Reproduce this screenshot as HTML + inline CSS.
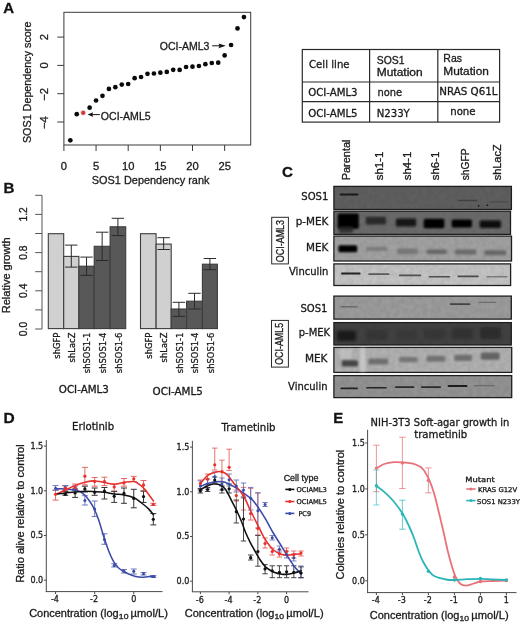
<!DOCTYPE html>
<html><head><meta charset="utf-8"><title>Figure</title>
<style>
html,body{margin:0;padding:0;background:#fff;width:520px;height:625px;overflow:hidden;}
svg{display:block;position:absolute;left:0;top:0;}
text{white-space:pre;stroke:#1a1a1a;stroke-width:0.3px;}
</style></head><body>
<svg width="520" height="625" viewBox="0 0 520 625">
<defs>
<filter id="b1" x="-30%" y="-100%" width="160%" height="300%"><feGaussianBlur stdDeviation="1.2"/></filter>
<filter id="b2" x="-30%" y="-100%" width="160%" height="300%"><feGaussianBlur stdDeviation="0.8"/></filter>
<filter id="b3" x="-30%" y="-100%" width="160%" height="300%"><feGaussianBlur stdDeviation="1.8"/></filter>
<filter id="b4" x="-10%" y="-200%" width="120%" height="500%"><feGaussianBlur stdDeviation="0.5 0.45"/></filter>
<filter id="b5" x="-20%" y="-100%" width="140%" height="300%"><feGaussianBlur stdDeviation="0.9 0.8"/></filter>
<filter id="noise" x="0" y="0" width="100%" height="100%"><feTurbulence type="fractalNoise" baseFrequency="0.22" numOctaves="3" seed="7" result="n"/><feColorMatrix type="matrix" values="0 0 0 0 0  0 0 0 0 0  0 0 0 0 0  0 0 0 0.5 0" in="n" result="m"/><feComposite in="m" in2="SourceGraphic" operator="in"/></filter>
</defs>
<rect width="520" height="625" fill="#fff"/>
<text transform="translate(3.30,12.90) scale(1.0,1)" x="0" y="0" text-anchor="start" font-family="'Liberation Sans', Arial, sans-serif" font-size="15.0" font-weight="700" fill="#111">A</text>
<rect x="63.90" y="12.30" width="186.80" height="132.70" fill="none" stroke="#3a3a3a" stroke-width="1"/>
<line x1="63.90" y1="145.00" x2="63.90" y2="151.00" stroke="#3a3a3a" stroke-width="1"/>
<line x1="96.05" y1="145.00" x2="96.05" y2="151.00" stroke="#3a3a3a" stroke-width="1"/>
<line x1="128.20" y1="145.00" x2="128.20" y2="151.00" stroke="#3a3a3a" stroke-width="1"/>
<line x1="160.35" y1="145.00" x2="160.35" y2="151.00" stroke="#3a3a3a" stroke-width="1"/>
<line x1="192.50" y1="145.00" x2="192.50" y2="151.00" stroke="#3a3a3a" stroke-width="1"/>
<line x1="224.65" y1="145.00" x2="224.65" y2="151.00" stroke="#3a3a3a" stroke-width="1"/>
<line x1="57.30" y1="122.00" x2="63.90" y2="122.00" stroke="#3a3a3a" stroke-width="1"/>
<line x1="57.30" y1="93.70" x2="63.90" y2="93.70" stroke="#3a3a3a" stroke-width="1"/>
<line x1="57.30" y1="65.40" x2="63.90" y2="65.40" stroke="#3a3a3a" stroke-width="1"/>
<line x1="57.30" y1="37.10" x2="63.90" y2="37.10" stroke="#3a3a3a" stroke-width="1"/>
<text transform="translate(63.90,169.50) scale(1.0,1)" x="0" y="0" text-anchor="middle" font-family="'Liberation Sans', Arial, sans-serif" font-size="11.2" font-weight="400" fill="#222">0</text>
<text transform="translate(96.05,169.50) scale(1.0,1)" x="0" y="0" text-anchor="middle" font-family="'Liberation Sans', Arial, sans-serif" font-size="11.2" font-weight="400" fill="#222">5</text>
<text transform="translate(128.20,169.50) scale(1.0,1)" x="0" y="0" text-anchor="middle" font-family="'Liberation Sans', Arial, sans-serif" font-size="11.2" font-weight="400" fill="#222">10</text>
<text transform="translate(160.35,169.50) scale(1.0,1)" x="0" y="0" text-anchor="middle" font-family="'Liberation Sans', Arial, sans-serif" font-size="11.2" font-weight="400" fill="#222">15</text>
<text transform="translate(192.50,169.50) scale(1.0,1)" x="0" y="0" text-anchor="middle" font-family="'Liberation Sans', Arial, sans-serif" font-size="11.2" font-weight="400" fill="#222">20</text>
<text transform="translate(224.65,169.50) scale(1.0,1)" x="0" y="0" text-anchor="middle" font-family="'Liberation Sans', Arial, sans-serif" font-size="11.2" font-weight="400" fill="#222">25</text>
<text x="91.83" y="184.20" font-family="'Liberation Sans', Arial, sans-serif" font-size="11.2" font-weight="400" fill="#222" textLength="117.64" lengthAdjust="spacingAndGlyphs">SOS1 Dependency rank</text>
<text transform="translate(48.30,37.10) rotate(-90) scale(1.0,1)" x="0" y="0" text-anchor="middle" font-family="'Liberation Sans', Arial, sans-serif" font-size="11.2" font-weight="400" fill="#222">2</text>
<text transform="translate(48.30,65.40) rotate(-90) scale(1.0,1)" x="0" y="0" text-anchor="middle" font-family="'Liberation Sans', Arial, sans-serif" font-size="11.2" font-weight="400" fill="#222">0</text>
<text transform="translate(48.30,94.30) rotate(-90) scale(1.0,1)" x="0" y="0" text-anchor="middle" font-family="'Liberation Sans', Arial, sans-serif" font-size="11.2" font-weight="400" fill="#222">−2</text>
<text transform="translate(48.30,122.60) rotate(-90) scale(1.0,1)" x="0" y="0" text-anchor="middle" font-family="'Liberation Sans', Arial, sans-serif" font-size="11.2" font-weight="400" fill="#222">−4</text>
<text transform="translate(30.90,143.10) rotate(-90)" x="0" y="0" font-family="'Liberation Sans', Arial, sans-serif" font-size="11.6" font-weight="400" fill="#222" textLength="121.49" lengthAdjust="spacingAndGlyphs">SOS1 Dependency score</text>
<circle cx="70.33" cy="140.30" r="2.35" fill="#0a0a0a"/>
<circle cx="76.76" cy="114.20" r="2.35" fill="#0a0a0a"/>
<circle cx="83.20" cy="112.80" r="2.7" fill="#f0c4c4"/>
<circle cx="83.20" cy="112.80" r="2.1" fill="#c83c3c"/>
<circle cx="89.62" cy="107.70" r="2.35" fill="#0a0a0a"/>
<circle cx="96.05" cy="100.50" r="2.35" fill="#0a0a0a"/>
<circle cx="102.48" cy="95.80" r="2.35" fill="#0a0a0a"/>
<circle cx="108.91" cy="88.90" r="2.35" fill="#0a0a0a"/>
<circle cx="115.34" cy="87.20" r="2.35" fill="#0a0a0a"/>
<circle cx="121.77" cy="84.60" r="2.35" fill="#0a0a0a"/>
<circle cx="128.20" cy="84.00" r="2.35" fill="#0a0a0a"/>
<circle cx="134.63" cy="78.20" r="2.35" fill="#0a0a0a"/>
<circle cx="141.06" cy="77.00" r="2.35" fill="#0a0a0a"/>
<circle cx="147.49" cy="73.80" r="2.35" fill="#0a0a0a"/>
<circle cx="153.92" cy="73.50" r="2.35" fill="#0a0a0a"/>
<circle cx="160.35" cy="72.70" r="2.35" fill="#0a0a0a"/>
<circle cx="166.78" cy="71.90" r="2.35" fill="#0a0a0a"/>
<circle cx="173.21" cy="69.80" r="2.35" fill="#0a0a0a"/>
<circle cx="179.64" cy="69.90" r="2.35" fill="#0a0a0a"/>
<circle cx="186.07" cy="67.00" r="2.35" fill="#0a0a0a"/>
<circle cx="192.50" cy="66.70" r="2.35" fill="#0a0a0a"/>
<circle cx="198.93" cy="66.00" r="2.35" fill="#0a0a0a"/>
<circle cx="205.36" cy="64.20" r="2.35" fill="#0a0a0a"/>
<circle cx="211.79" cy="63.00" r="2.35" fill="#0a0a0a"/>
<circle cx="218.22" cy="62.70" r="2.35" fill="#0a0a0a"/>
<circle cx="224.65" cy="55.40" r="2.35" fill="#0a0a0a"/>
<circle cx="231.08" cy="45.00" r="2.35" fill="#0a0a0a"/>
<circle cx="237.51" cy="28.40" r="2.35" fill="#0a0a0a"/>
<circle cx="243.94" cy="17.10" r="2.35" fill="#0a0a0a"/>
<line x1="212.20" y1="45.80" x2="220.50" y2="45.80" stroke="#111" stroke-width="1"/>
<polygon points="225.8,45.8 218.5,43.4 219.6,45.8 218.5,48.2" fill="#111"/>
<line x1="92.00" y1="114.60" x2="99.80" y2="114.60" stroke="#111" stroke-width="1"/>
<polygon points="87.6,114.6 93.2,112.3 92.2,114.6 93.2,116.9" fill="#111"/>
<text x="159.76" y="49.60" font-family="'Liberation Sans', Arial, sans-serif" font-size="10.6" font-weight="400" fill="#1a1a1a" textLength="49.67" lengthAdjust="spacingAndGlyphs">OCI-AML3</text>
<text x="100.89" y="120.30" font-family="'Liberation Sans', Arial, sans-serif" font-size="10.2" font-weight="400" fill="#1a1a1a" textLength="49.72" lengthAdjust="spacingAndGlyphs">OCI-AML5</text>
<rect x="302.30" y="49.50" width="197.30" height="72.60" fill="none" stroke="#2a2a2a" stroke-width="1.2"/>
<line x1="369.60" y1="49.50" x2="369.60" y2="122.10" stroke="#2a2a2a" stroke-width="1.2"/>
<line x1="437.80" y1="49.50" x2="437.80" y2="122.10" stroke="#2a2a2a" stroke-width="1.2"/>
<line x1="302.30" y1="82.00" x2="499.60" y2="82.00" stroke="#2a2a2a" stroke-width="1.2"/>
<line x1="302.30" y1="101.60" x2="499.60" y2="101.60" stroke="#2a2a2a" stroke-width="1.2"/>
<text x="308.98" y="68.20" font-family="'DejaVu Sans', Verdana, sans-serif" font-size="10.4" font-weight="400" fill="#1a1a1a" textLength="40.65" lengthAdjust="spacingAndGlyphs">Cell line</text>
<text x="376.78" y="64.10" font-family="'Liberation Sans', Arial, sans-serif" font-size="10.4" font-weight="400" fill="#1a1a1a" textLength="27.65" lengthAdjust="spacingAndGlyphs">SOS1</text>
<text x="376.78" y="76.00" font-family="'Liberation Sans', Arial, sans-serif" font-size="10.4" font-weight="400" fill="#1a1a1a" textLength="45.85" lengthAdjust="spacingAndGlyphs">Mutation</text>
<text x="443.38" y="62.30" font-family="'Liberation Sans', Arial, sans-serif" font-size="10.4" font-weight="400" fill="#1a1a1a" textLength="18.65" lengthAdjust="spacingAndGlyphs">Ras</text>
<text x="443.38" y="74.80" font-family="'Liberation Sans', Arial, sans-serif" font-size="10.4" font-weight="400" fill="#1a1a1a" textLength="45.45" lengthAdjust="spacingAndGlyphs">Mutation</text>
<text x="308.20" y="95.70" font-family="'DejaVu Sans', Verdana, sans-serif" font-size="10.0" font-weight="400" fill="#1a1a1a" textLength="49.40" lengthAdjust="spacingAndGlyphs">OCI-AML3</text>
<text x="377.40" y="95.70" font-family="'DejaVu Sans', Verdana, sans-serif" font-size="10.0" font-weight="400" fill="#1a1a1a" textLength="24.70" lengthAdjust="spacingAndGlyphs">none</text>
<text x="439.30" y="94.70" font-family="'DejaVu Sans', Verdana, sans-serif" font-size="10.0" font-weight="400" fill="#1a1a1a" textLength="58.30" lengthAdjust="spacingAndGlyphs">NRAS Q61L</text>
<text x="308.20" y="116.50" font-family="'DejaVu Sans', Verdana, sans-serif" font-size="10.0" font-weight="400" fill="#1a1a1a" textLength="49.40" lengthAdjust="spacingAndGlyphs">OCI-AML5</text>
<text x="376.70" y="116.50" font-family="'DejaVu Sans', Verdana, sans-serif" font-size="10.0" font-weight="400" fill="#1a1a1a" textLength="33.10" lengthAdjust="spacingAndGlyphs">N233Y</text>
<text x="450.20" y="115.30" font-family="'DejaVu Sans', Verdana, sans-serif" font-size="10.0" font-weight="400" fill="#1a1a1a" textLength="25.40" lengthAdjust="spacingAndGlyphs">none</text>
<text transform="translate(3.60,193.00) scale(1.0,1)" x="0" y="0" text-anchor="start" font-family="'Liberation Sans', Arial, sans-serif" font-size="15.2" font-weight="700" fill="#111">B</text>
<line x1="42.00" y1="195.30" x2="42.00" y2="329.00" stroke="#555" stroke-width="1"/>
<line x1="35.20" y1="329.00" x2="42.00" y2="329.00" stroke="#555" stroke-width="1"/>
<line x1="35.20" y1="309.90" x2="42.00" y2="309.90" stroke="#555" stroke-width="1"/>
<line x1="35.20" y1="290.80" x2="42.00" y2="290.80" stroke="#555" stroke-width="1"/>
<line x1="35.20" y1="271.70" x2="42.00" y2="271.70" stroke="#555" stroke-width="1"/>
<line x1="35.20" y1="252.60" x2="42.00" y2="252.60" stroke="#555" stroke-width="1"/>
<line x1="35.20" y1="233.50" x2="42.00" y2="233.50" stroke="#555" stroke-width="1"/>
<line x1="35.20" y1="214.40" x2="42.00" y2="214.40" stroke="#555" stroke-width="1"/>
<line x1="35.20" y1="195.30" x2="42.00" y2="195.30" stroke="#555" stroke-width="1"/>
<text transform="translate(27.30,329.00) rotate(-90) scale(1.0,1)" x="0" y="0" text-anchor="middle" font-family="'Liberation Sans', Arial, sans-serif" font-size="10.3" font-weight="400" fill="#222">0.0</text>
<text transform="translate(27.30,290.80) rotate(-90) scale(1.0,1)" x="0" y="0" text-anchor="middle" font-family="'Liberation Sans', Arial, sans-serif" font-size="10.3" font-weight="400" fill="#222">0.4</text>
<text transform="translate(27.30,252.60) rotate(-90) scale(1.0,1)" x="0" y="0" text-anchor="middle" font-family="'Liberation Sans', Arial, sans-serif" font-size="10.3" font-weight="400" fill="#222">0.8</text>
<text transform="translate(27.30,214.40) rotate(-90) scale(1.0,1)" x="0" y="0" text-anchor="middle" font-family="'Liberation Sans', Arial, sans-serif" font-size="10.3" font-weight="400" fill="#222">1.2</text>
<text transform="translate(9.70,313.21) rotate(-90)" x="0" y="0" font-family="'Liberation Sans', Arial, sans-serif" font-size="10.1" font-weight="400" fill="#222" textLength="75.81" lengthAdjust="spacingAndGlyphs">Relative growth</text>
<rect x="48.30" y="233.70" width="15.40" height="94.90" fill="#d0d0d0" stroke="#3c3c3c" stroke-width="1.1"/>
<rect x="63.70" y="256.40" width="15.20" height="72.20" fill="#d0d0d0" stroke="#3c3c3c" stroke-width="1.1"/>
<rect x="78.90" y="266.20" width="15.30" height="62.40" fill="#585858" stroke="#3c3c3c" stroke-width="1.1"/>
<rect x="94.20" y="246.30" width="15.90" height="82.30" fill="#585858" stroke="#3c3c3c" stroke-width="1.1"/>
<rect x="110.10" y="226.80" width="15.60" height="101.80" fill="#585858" stroke="#3c3c3c" stroke-width="1.1"/>
<line x1="71.30" y1="245.10" x2="71.30" y2="267.10" stroke="#2a2a2a" stroke-width="1"/>
<line x1="65.10" y1="245.10" x2="77.50" y2="245.10" stroke="#2a2a2a" stroke-width="1"/>
<line x1="65.10" y1="267.10" x2="77.50" y2="267.10" stroke="#2a2a2a" stroke-width="1"/>
<line x1="86.55" y1="257.10" x2="86.55" y2="275.40" stroke="#2a2a2a" stroke-width="1"/>
<line x1="80.35" y1="257.10" x2="92.75" y2="257.10" stroke="#2a2a2a" stroke-width="1"/>
<line x1="80.35" y1="275.40" x2="92.75" y2="275.40" stroke="#2a2a2a" stroke-width="1"/>
<line x1="102.15" y1="232.20" x2="102.15" y2="260.50" stroke="#2a2a2a" stroke-width="1"/>
<line x1="95.95" y1="232.20" x2="108.35" y2="232.20" stroke="#2a2a2a" stroke-width="1"/>
<line x1="95.95" y1="260.50" x2="108.35" y2="260.50" stroke="#2a2a2a" stroke-width="1"/>
<line x1="117.90" y1="218.30" x2="117.90" y2="235.60" stroke="#2a2a2a" stroke-width="1"/>
<line x1="111.70" y1="218.30" x2="124.10" y2="218.30" stroke="#2a2a2a" stroke-width="1"/>
<line x1="111.70" y1="235.60" x2="124.10" y2="235.60" stroke="#2a2a2a" stroke-width="1"/>
<rect x="140.50" y="233.70" width="15.60" height="94.90" fill="#d0d0d0" stroke="#3c3c3c" stroke-width="1.1"/>
<rect x="156.10" y="244.10" width="15.10" height="84.50" fill="#d0d0d0" stroke="#3c3c3c" stroke-width="1.1"/>
<rect x="171.20" y="309.00" width="15.40" height="19.60" fill="#585858" stroke="#3c3c3c" stroke-width="1.1"/>
<rect x="186.60" y="301.20" width="15.80" height="27.40" fill="#585858" stroke="#3c3c3c" stroke-width="1.1"/>
<rect x="202.40" y="264.20" width="15.00" height="64.40" fill="#585858" stroke="#3c3c3c" stroke-width="1.1"/>
<line x1="163.65" y1="237.70" x2="163.65" y2="249.50" stroke="#2a2a2a" stroke-width="1"/>
<line x1="157.45" y1="237.70" x2="169.85" y2="237.70" stroke="#2a2a2a" stroke-width="1"/>
<line x1="157.45" y1="249.50" x2="169.85" y2="249.50" stroke="#2a2a2a" stroke-width="1"/>
<line x1="178.90" y1="302.30" x2="178.90" y2="316.40" stroke="#2a2a2a" stroke-width="1"/>
<line x1="172.70" y1="302.30" x2="185.10" y2="302.30" stroke="#2a2a2a" stroke-width="1"/>
<line x1="172.70" y1="316.40" x2="185.10" y2="316.40" stroke="#2a2a2a" stroke-width="1"/>
<line x1="194.50" y1="293.30" x2="194.50" y2="309.00" stroke="#2a2a2a" stroke-width="1"/>
<line x1="188.30" y1="293.30" x2="200.70" y2="293.30" stroke="#2a2a2a" stroke-width="1"/>
<line x1="188.30" y1="309.00" x2="200.70" y2="309.00" stroke="#2a2a2a" stroke-width="1"/>
<line x1="209.90" y1="258.50" x2="209.90" y2="269.70" stroke="#2a2a2a" stroke-width="1"/>
<line x1="203.70" y1="258.50" x2="216.10" y2="258.50" stroke="#2a2a2a" stroke-width="1"/>
<line x1="203.70" y1="269.70" x2="216.10" y2="269.70" stroke="#2a2a2a" stroke-width="1"/>
<text transform="translate(59.80,332.6) rotate(-90)" x="0" y="0" text-anchor="end" font-family="'DejaVu Sans', Verdana, sans-serif" font-size="8.4" fill="#222">shGFP</text>
<text transform="translate(75.10,332.6) rotate(-90)" x="0" y="0" text-anchor="end" font-family="'DejaVu Sans', Verdana, sans-serif" font-size="8.4" fill="#222">shLacZ</text>
<text transform="translate(90.35,332.6) rotate(-90)" x="0" y="0" text-anchor="end" font-family="'DejaVu Sans', Verdana, sans-serif" font-size="8.4" fill="#222">shSOS1-1</text>
<text transform="translate(105.95,332.6) rotate(-90)" x="0" y="0" text-anchor="end" font-family="'DejaVu Sans', Verdana, sans-serif" font-size="8.4" fill="#222">shSOS1-4</text>
<text transform="translate(121.70,332.6) rotate(-90)" x="0" y="0" text-anchor="end" font-family="'DejaVu Sans', Verdana, sans-serif" font-size="8.4" fill="#222">shSOS1-6</text>
<text transform="translate(152.10,332.6) rotate(-90)" x="0" y="0" text-anchor="end" font-family="'DejaVu Sans', Verdana, sans-serif" font-size="8.4" fill="#222">shGFP</text>
<text transform="translate(167.45,332.6) rotate(-90)" x="0" y="0" text-anchor="end" font-family="'DejaVu Sans', Verdana, sans-serif" font-size="8.4" fill="#222">shLacZ</text>
<text transform="translate(182.70,332.6) rotate(-90)" x="0" y="0" text-anchor="end" font-family="'DejaVu Sans', Verdana, sans-serif" font-size="8.4" fill="#222">shSOS1-1</text>
<text transform="translate(198.30,332.6) rotate(-90)" x="0" y="0" text-anchor="end" font-family="'DejaVu Sans', Verdana, sans-serif" font-size="8.4" fill="#222">shSOS1-4</text>
<text transform="translate(213.70,332.6) rotate(-90)" x="0" y="0" text-anchor="end" font-family="'DejaVu Sans', Verdana, sans-serif" font-size="8.4" fill="#222">shSOS1-6</text>
<text x="58.82" y="392.70" font-family="'DejaVu Sans', Verdana, sans-serif" font-size="9.6" font-weight="400" fill="#1a1a1a" textLength="50.05" lengthAdjust="spacingAndGlyphs">OCI-AML3</text>
<text x="152.62" y="394.60" font-family="'DejaVu Sans', Verdana, sans-serif" font-size="9.6" font-weight="400" fill="#1a1a1a" textLength="50.25" lengthAdjust="spacingAndGlyphs">OCI-AML5</text>
<text transform="translate(281.90,176.90) scale(1.0,1)" x="0" y="0" text-anchor="start" font-family="'Liberation Sans', Arial, sans-serif" font-size="15.2" font-weight="700" fill="#111">C</text>
<text transform="translate(349.70,180.35) rotate(-90)" x="0" y="0" font-family="'Liberation Sans', Arial, sans-serif" font-size="10.8" font-weight="400" fill="#1a1a1a" textLength="40.80" lengthAdjust="spacingAndGlyphs">Parental</text>
<text transform="translate(382.60,180.35) rotate(-90)" x="0" y="0" font-family="'Liberation Sans', Arial, sans-serif" font-size="10.8" font-weight="400" fill="#1a1a1a" textLength="28.70" lengthAdjust="spacingAndGlyphs">sh1-1</text>
<text transform="translate(411.20,180.35) rotate(-90)" x="0" y="0" font-family="'Liberation Sans', Arial, sans-serif" font-size="10.8" font-weight="400" fill="#1a1a1a" textLength="28.70" lengthAdjust="spacingAndGlyphs">sh4-1</text>
<text transform="translate(439.40,180.35) rotate(-90)" x="0" y="0" font-family="'Liberation Sans', Arial, sans-serif" font-size="10.8" font-weight="400" fill="#1a1a1a" textLength="28.70" lengthAdjust="spacingAndGlyphs">sh6-1</text>
<text transform="translate(469.30,180.35) rotate(-90)" x="0" y="0" font-family="'Liberation Sans', Arial, sans-serif" font-size="10.8" font-weight="400" fill="#1a1a1a" textLength="31.80" lengthAdjust="spacingAndGlyphs">shGFP</text>
<text transform="translate(500.50,180.35) rotate(-90)" x="0" y="0" font-family="'Liberation Sans', Arial, sans-serif" font-size="10.8" font-weight="400" fill="#1a1a1a" textLength="36.00" lengthAdjust="spacingAndGlyphs">shLacZ</text>
<rect x="333.90" y="186.40" width="177.50" height="23.10" fill="#626262" stroke="#1e1e1e" stroke-width="1.3"/>
<rect x="334.6" y="187.10" width="176.10" height="21.70" fill="#000" opacity="0.22" filter="url(#noise)"/>
<rect x="339.70" y="193.60" width="18.80" height="2.00" rx="1.00" fill="#1a1a1a" opacity="1" filter="url(#b4)"/>
<rect x="457.80" y="199.80" width="19.50" height="1.50" rx="0.75" fill="#3a3a3a" opacity="0.8" filter="url(#b4)"/>
<rect x="489.40" y="201.10" width="18.90" height="1.40" rx="0.70" fill="#454545" opacity="0.6" filter="url(#b4)"/>
<rect x="477.80" y="205.10" width="1.60" height="1.60" rx="0.80" fill="#111" opacity="1" filter="url(#b4)"/>
<rect x="486.60" y="204.40" width="1.60" height="1.60" rx="0.80" fill="#111" opacity="1" filter="url(#b4)"/>
<rect x="333.90" y="211.20" width="176.60" height="23.20" fill="#6e6e6e" stroke="#1e1e1e" stroke-width="1.3"/>
<rect x="334.6" y="211.90" width="175.20" height="21.80" fill="#000" opacity="0.22" filter="url(#noise)"/>
<rect x="337.60" y="213.60" width="21.20" height="15.20" rx="1.50" fill="#000" opacity="1" filter="url(#b5)"/>
<rect x="339.00" y="226.00" width="14.00" height="7.00" rx="1.50" fill="#222" opacity="0.75" filter="url(#b1)"/>
<rect x="365.70" y="216.80" width="20.30" height="7.80" rx="1.50" fill="#262626" opacity="0.95" filter="url(#b5)"/>
<rect x="395.90" y="218.40" width="20.20" height="8.00" rx="1.50" fill="#141414" opacity="1" filter="url(#b5)"/>
<rect x="423.70" y="218.80" width="20.60" height="9.40" rx="1.50" fill="#000" opacity="1" filter="url(#b5)"/>
<rect x="451.70" y="219.60" width="20.20" height="8.00" rx="1.50" fill="#050505" opacity="1" filter="url(#b5)"/>
<rect x="479.70" y="220.40" width="21.20" height="7.60" rx="1.50" fill="#0a0a0a" opacity="1" filter="url(#b5)"/>
<rect x="333.90" y="236.10" width="177.60" height="24.90" fill="#a6a6a6" stroke="#1e1e1e" stroke-width="1.3"/>
<rect x="334.6" y="236.80" width="176.20" height="23.50" fill="#000" opacity="0.22" filter="url(#noise)"/>
<rect x="338.40" y="245.30" width="18.80" height="6.90" rx="1.50" fill="#000" opacity="1" filter="url(#b5)"/>
<rect x="366.00" y="246.70" width="21.50" height="4.20" rx="1.50" fill="#7c7c7c" opacity="1" filter="url(#b5)"/>
<rect x="397.00" y="248.60" width="20.90" height="5.60" rx="1.50" fill="#777" opacity="1" filter="url(#b5)"/>
<rect x="426.60" y="249.40" width="20.20" height="4.50" rx="1.50" fill="#666" opacity="1" filter="url(#b5)"/>
<rect x="455.00" y="249.60" width="21.30" height="4.80" rx="1.50" fill="#6a6a6a" opacity="1" filter="url(#b5)"/>
<rect x="484.40" y="250.30" width="21.90" height="4.90" rx="1.50" fill="#666" opacity="1" filter="url(#b5)"/>
<rect x="333.90" y="263.90" width="176.70" height="21.60" fill="#c9c9c9" stroke="#1e1e1e" stroke-width="1.3"/>
<rect x="334.6" y="264.60" width="175.30" height="20.20" fill="#000" opacity="0.22" filter="url(#noise)"/>
<rect x="341.00" y="272.40" width="19.60" height="2.00" rx="1.00" fill="#222" opacity="1" filter="url(#b4)"/>
<rect x="368.30" y="273.30" width="21.20" height="1.70" rx="0.85" fill="#5a5a5a" opacity="1" filter="url(#b4)"/>
<rect x="399.00" y="274.60" width="22.20" height="1.70" rx="0.85" fill="#505050" opacity="1" filter="url(#b4)"/>
<rect x="428.60" y="275.90" width="21.60" height="1.70" rx="0.85" fill="#505050" opacity="1" filter="url(#b4)"/>
<rect x="457.50" y="275.60" width="21.30" height="1.70" rx="0.85" fill="#4a4a4a" opacity="1" filter="url(#b4)"/>
<rect x="486.30" y="276.10" width="21.20" height="1.40" rx="0.70" fill="#7a7a7a" opacity="1" filter="url(#b4)"/>
<rect x="333.90" y="296.10" width="177.40" height="23.00" fill="#a0a0a0" stroke="#1e1e1e" stroke-width="1.3"/>
<rect x="334.6" y="296.80" width="176.00" height="21.60" fill="#000" opacity="0.22" filter="url(#noise)"/>
<rect x="340.40" y="306.00" width="17.50" height="1.60" rx="0.80" fill="#6a6a6a" opacity="1" filter="url(#b4)"/>
<rect x="449.80" y="303.20" width="20.60" height="1.70" rx="0.85" fill="#3a3a3a" opacity="0.9" filter="url(#b4)"/>
<rect x="478.50" y="301.80" width="17.70" height="1.30" rx="0.65" fill="#6a6a6a" opacity="0.9" filter="url(#b4)"/>
<rect x="333.90" y="322.60" width="177.40" height="22.40" fill="#444444" stroke="#1e1e1e" stroke-width="1.3"/>
<rect x="334.6" y="323.30" width="176.00" height="21.00" fill="#000" opacity="0.22" filter="url(#noise)"/>
<rect x="337.00" y="330.50" width="19.00" height="10.50" rx="1.50" fill="#181818" opacity="0.9" filter="url(#b3)"/>
<rect x="366.00" y="330.00" width="21.00" height="10.00" rx="1.50" fill="#2e2e2e" opacity="0.6" filter="url(#b3)"/>
<rect x="396.00" y="330.00" width="21.00" height="10.00" rx="1.50" fill="#303030" opacity="0.5" filter="url(#b3)"/>
<rect x="424.00" y="329.00" width="21.00" height="10.00" rx="1.50" fill="#2e2e2e" opacity="0.55" filter="url(#b3)"/>
<rect x="452.00" y="328.00" width="21.00" height="11.00" rx="1.50" fill="#2a2a2a" opacity="0.65" filter="url(#b3)"/>
<rect x="480.00" y="327.00" width="21.00" height="12.00" rx="1.50" fill="#262626" opacity="0.75" filter="url(#b3)"/>
<rect x="333.90" y="347.40" width="177.80" height="25.00" fill="#b6b6b6" stroke="#1e1e1e" stroke-width="1.3"/>
<rect x="334.6" y="348.10" width="176.40" height="23.60" fill="#000" opacity="0.22" filter="url(#noise)"/>
<rect x="360" y="348.2" width="5.5" height="23.5" fill="#d0d0d0" opacity="0.7" filter="url(#b1)"/>
<rect x="340" y="349" width="12" height="10" fill="#c8c8c8" opacity="0.6" filter="url(#b1)"/>
<rect x="341.70" y="360.20" width="16.20" height="6.40" rx="1.50" fill="#444" opacity="1" filter="url(#b5)"/>
<rect x="368.30" y="358.60" width="19.90" height="5.80" rx="1.50" fill="#6e6e6e" opacity="1" filter="url(#b5)"/>
<rect x="399.00" y="357.00" width="18.70" height="5.30" rx="1.50" fill="#747474" opacity="1" filter="url(#b5)"/>
<rect x="426.50" y="355.80" width="18.90" height="6.00" rx="1.50" fill="#727272" opacity="1" filter="url(#b5)"/>
<rect x="454.20" y="354.80" width="17.70" height="6.20" rx="1.50" fill="#6e6e6e" opacity="1" filter="url(#b5)"/>
<rect x="480.80" y="352.60" width="18.80" height="7.20" rx="1.50" fill="#646464" opacity="1" filter="url(#b5)"/>
<rect x="333.90" y="375.60" width="177.80" height="22.00" fill="#979797" stroke="#1e1e1e" stroke-width="1.3"/>
<rect x="334.6" y="376.30" width="176.40" height="20.60" fill="#000" opacity="0.22" filter="url(#noise)"/>
<rect x="340.40" y="387.60" width="17.50" height="1.70" rx="0.85" fill="#222" opacity="1" filter="url(#b4)"/>
<rect x="366.00" y="386.90" width="20.80" height="1.70" rx="0.85" fill="#262626" opacity="1" filter="url(#b4)"/>
<rect x="395.00" y="386.30" width="19.40" height="1.70" rx="0.85" fill="#2a2a2a" opacity="1" filter="url(#b4)"/>
<rect x="421.00" y="386.30" width="20.00" height="1.70" rx="0.85" fill="#2c2c2c" opacity="1" filter="url(#b4)"/>
<rect x="447.60" y="385.10" width="19.90" height="1.80" rx="0.90" fill="#1c1c1c" opacity="1" filter="url(#b4)"/>
<rect x="474.00" y="384.90" width="21.00" height="1.40" rx="0.70" fill="#6a6a6a" opacity="1" filter="url(#b4)"/>
<text x="301.31" y="199.90" font-family="'DejaVu Sans', Verdana, sans-serif" font-size="9.9" font-weight="400" fill="#1a1a1a" textLength="27.09" lengthAdjust="spacingAndGlyphs">SOS1</text>
<text x="295.71" y="225.40" font-family="'DejaVu Sans', Verdana, sans-serif" font-size="9.9" font-weight="400" fill="#1a1a1a" textLength="32.69" lengthAdjust="spacingAndGlyphs">p-MEK</text>
<text x="306.11" y="251.20" font-family="'DejaVu Sans', Verdana, sans-serif" font-size="9.9" font-weight="400" fill="#1a1a1a" textLength="22.29" lengthAdjust="spacingAndGlyphs">MEK</text>
<text x="289.01" y="275.00" font-family="'DejaVu Sans', Verdana, sans-serif" font-size="9.9" font-weight="400" fill="#1a1a1a" textLength="39.39" lengthAdjust="spacingAndGlyphs">Vinculin</text>
<text x="300.41" y="311.50" font-family="'DejaVu Sans', Verdana, sans-serif" font-size="9.9" font-weight="400" fill="#1a1a1a" textLength="27.09" lengthAdjust="spacingAndGlyphs">SOS1</text>
<text x="298.71" y="335.70" font-family="'DejaVu Sans', Verdana, sans-serif" font-size="9.9" font-weight="400" fill="#1a1a1a" textLength="31.39" lengthAdjust="spacingAndGlyphs">p-MEK</text>
<text x="304.91" y="361.80" font-family="'DejaVu Sans', Verdana, sans-serif" font-size="9.9" font-weight="400" fill="#1a1a1a" textLength="22.59" lengthAdjust="spacingAndGlyphs">MEK</text>
<text x="288.11" y="389.90" font-family="'DejaVu Sans', Verdana, sans-serif" font-size="9.9" font-weight="400" fill="#1a1a1a" textLength="39.39" lengthAdjust="spacingAndGlyphs">Vinculin</text>
<rect x="271.70" y="217.30" width="16.70" height="46.60" fill="none" stroke="#2a2a2a" stroke-width="1"/>
<text transform="translate(283.50,262.31) rotate(-90)" x="0" y="0" font-family="'Liberation Sans', Arial, sans-serif" font-size="10.2" font-weight="400" fill="#1a1a1a" textLength="42.42" lengthAdjust="spacingAndGlyphs">OCI-AML3</text>
<rect x="271.50" y="320.40" width="16.90" height="46.70" fill="none" stroke="#2a2a2a" stroke-width="1"/>
<text transform="translate(283.30,364.81) rotate(-90)" x="0" y="0" font-family="'Liberation Sans', Arial, sans-serif" font-size="10.2" font-weight="400" fill="#1a1a1a" textLength="41.92" lengthAdjust="spacingAndGlyphs">OCI-AML5</text>
<text transform="translate(3.50,422.70) scale(1.0,1)" x="0" y="0" text-anchor="start" font-family="'Liberation Sans', Arial, sans-serif" font-size="15.5" font-weight="700" fill="#111">D</text>
<line x1="46.30" y1="440.00" x2="46.30" y2="592.00" stroke="#4a4a4a" stroke-width="1.0"/>
<line x1="45.80" y1="591.60" x2="162.50" y2="591.60" stroke="#4a4a4a" stroke-width="1.0"/>
<line x1="43.90" y1="446.10" x2="46.30" y2="446.10" stroke="#4a4a4a" stroke-width="1"/>
<text transform="translate(43.20,449.00) scale(1.0,1)" x="0" y="0" text-anchor="end" font-family="'DejaVu Sans', Verdana, sans-serif" font-size="8.0" font-weight="400" fill="#2a2a2a">1.5</text>
<line x1="43.90" y1="490.80" x2="46.30" y2="490.80" stroke="#4a4a4a" stroke-width="1"/>
<text transform="translate(43.20,493.70) scale(1.0,1)" x="0" y="0" text-anchor="end" font-family="'DejaVu Sans', Verdana, sans-serif" font-size="8.0" font-weight="400" fill="#2a2a2a">1.0</text>
<line x1="43.90" y1="535.50" x2="46.30" y2="535.50" stroke="#4a4a4a" stroke-width="1"/>
<text transform="translate(43.20,538.40) scale(1.0,1)" x="0" y="0" text-anchor="end" font-family="'DejaVu Sans', Verdana, sans-serif" font-size="8.0" font-weight="400" fill="#2a2a2a">0.5</text>
<line x1="43.90" y1="580.20" x2="46.30" y2="580.20" stroke="#4a4a4a" stroke-width="1"/>
<text transform="translate(43.20,583.10) scale(1.0,1)" x="0" y="0" text-anchor="end" font-family="'DejaVu Sans', Verdana, sans-serif" font-size="8.0" font-weight="400" fill="#2a2a2a">0.0</text>
<line x1="55.55" y1="591.60" x2="55.55" y2="594.00" stroke="#4a4a4a" stroke-width="1"/>
<text transform="translate(54.95,601.80) scale(1.0,1)" x="0" y="0" text-anchor="middle" font-family="'DejaVu Sans', Verdana, sans-serif" font-size="8.0" font-weight="400" fill="#2a2a2a">-4</text>
<line x1="94.65" y1="591.60" x2="94.65" y2="594.00" stroke="#4a4a4a" stroke-width="1"/>
<text transform="translate(94.05,601.80) scale(1.0,1)" x="0" y="0" text-anchor="middle" font-family="'DejaVu Sans', Verdana, sans-serif" font-size="8.0" font-weight="400" fill="#2a2a2a">-2</text>
<line x1="133.75" y1="591.60" x2="133.75" y2="594.00" stroke="#4a4a4a" stroke-width="1"/>
<text transform="translate(133.75,601.80) scale(1.0,1)" x="0" y="0" text-anchor="middle" font-family="'DejaVu Sans', Verdana, sans-serif" font-size="8.0" font-weight="400" fill="#2a2a2a">0</text>
<text x="72.10" y="430.40" font-family="'DejaVu Sans', Verdana, sans-serif" font-size="10.0" font-weight="400" fill="#1a1a1a" textLength="42.00" lengthAdjust="spacingAndGlyphs">Erlotinib</text>
<line x1="192.40" y1="440.80" x2="192.40" y2="592.00" stroke="#4a4a4a" stroke-width="1.0"/>
<line x1="191.90" y1="591.80" x2="308.50" y2="591.80" stroke="#4a4a4a" stroke-width="1.0"/>
<line x1="190.00" y1="447.10" x2="192.40" y2="447.10" stroke="#4a4a4a" stroke-width="1"/>
<text transform="translate(189.30,450.00) scale(1.0,1)" x="0" y="0" text-anchor="end" font-family="'DejaVu Sans', Verdana, sans-serif" font-size="8.0" font-weight="400" fill="#2a2a2a">1.5</text>
<line x1="190.00" y1="491.80" x2="192.40" y2="491.80" stroke="#4a4a4a" stroke-width="1"/>
<text transform="translate(189.30,494.70) scale(1.0,1)" x="0" y="0" text-anchor="end" font-family="'DejaVu Sans', Verdana, sans-serif" font-size="8.0" font-weight="400" fill="#2a2a2a">1.0</text>
<line x1="190.00" y1="536.50" x2="192.40" y2="536.50" stroke="#4a4a4a" stroke-width="1"/>
<text transform="translate(189.30,539.40) scale(1.0,1)" x="0" y="0" text-anchor="end" font-family="'DejaVu Sans', Verdana, sans-serif" font-size="8.0" font-weight="400" fill="#2a2a2a">0.5</text>
<line x1="190.00" y1="581.20" x2="192.40" y2="581.20" stroke="#4a4a4a" stroke-width="1"/>
<text transform="translate(189.30,584.10) scale(1.0,1)" x="0" y="0" text-anchor="end" font-family="'DejaVu Sans', Verdana, sans-serif" font-size="8.0" font-weight="400" fill="#2a2a2a">0.0</text>
<line x1="200.38" y1="591.80" x2="200.38" y2="594.20" stroke="#4a4a4a" stroke-width="1"/>
<text transform="translate(199.78,602.60) scale(1.0,1)" x="0" y="0" text-anchor="middle" font-family="'DejaVu Sans', Verdana, sans-serif" font-size="8.0" font-weight="400" fill="#2a2a2a">-6</text>
<line x1="229.12" y1="591.80" x2="229.12" y2="594.20" stroke="#4a4a4a" stroke-width="1"/>
<text transform="translate(228.52,602.60) scale(1.0,1)" x="0" y="0" text-anchor="middle" font-family="'DejaVu Sans', Verdana, sans-serif" font-size="8.0" font-weight="400" fill="#2a2a2a">-4</text>
<line x1="257.86" y1="591.80" x2="257.86" y2="594.20" stroke="#4a4a4a" stroke-width="1"/>
<text transform="translate(257.26,602.60) scale(1.0,1)" x="0" y="0" text-anchor="middle" font-family="'DejaVu Sans', Verdana, sans-serif" font-size="8.0" font-weight="400" fill="#2a2a2a">-2</text>
<line x1="286.60" y1="591.80" x2="286.60" y2="594.20" stroke="#4a4a4a" stroke-width="1"/>
<text transform="translate(286.60,602.60) scale(1.0,1)" x="0" y="0" text-anchor="middle" font-family="'DejaVu Sans', Verdana, sans-serif" font-size="8.0" font-weight="400" fill="#2a2a2a">0</text>
<text x="221.59" y="430.50" font-family="'DejaVu Sans', Verdana, sans-serif" font-size="10.1" font-weight="400" fill="#1a1a1a" textLength="54.01" lengthAdjust="spacingAndGlyphs">Trametinib</text>
<text x="29.16" y="616.60" font-family="'Liberation Sans', Arial, sans-serif" font-size="10.7" font-weight="400" fill="#1a1a1a" textLength="89.48" lengthAdjust="spacingAndGlyphs">Concentration (log</text>
<text x="118.87" y="618.60" font-family="'Liberation Sans', Arial, sans-serif" font-size="7.2" font-weight="400" fill="#1a1a1a" textLength="9.56" lengthAdjust="spacingAndGlyphs">10</text>
<text x="130.56" y="616.60" font-family="'Liberation Sans', Arial, sans-serif" font-size="10.7" font-weight="400" fill="#1a1a1a" textLength="37.38" lengthAdjust="spacingAndGlyphs">µmol/L)</text>
<text x="184.86" y="616.60" font-family="'Liberation Sans', Arial, sans-serif" font-size="10.7" font-weight="400" fill="#1a1a1a" textLength="89.48" lengthAdjust="spacingAndGlyphs">Concentration (log</text>
<text x="274.57" y="618.60" font-family="'Liberation Sans', Arial, sans-serif" font-size="7.2" font-weight="400" fill="#1a1a1a" textLength="9.56" lengthAdjust="spacingAndGlyphs">10</text>
<text x="286.26" y="616.60" font-family="'Liberation Sans', Arial, sans-serif" font-size="10.7" font-weight="400" fill="#1a1a1a" textLength="37.38" lengthAdjust="spacingAndGlyphs">µmol/L)</text>
<text transform="translate(23.60,582.84) rotate(-90)" x="0" y="0" font-family="'Liberation Sans', Arial, sans-serif" font-size="10.6" font-weight="400" fill="#1a1a1a" textLength="138.47" lengthAdjust="spacingAndGlyphs">Ratio alive relative to control</text>
<line x1="55.55" y1="490.00" x2="55.55" y2="500.10" stroke="#e55a55" stroke-width="1.0" opacity="0.9"/>
<line x1="52.55" y1="490.00" x2="58.55" y2="490.00" stroke="#e55a55" stroke-width="1.0" opacity="0.9"/>
<line x1="52.55" y1="500.10" x2="58.55" y2="500.10" stroke="#e55a55" stroke-width="1.0" opacity="0.9"/>
<line x1="84.88" y1="467.40" x2="84.88" y2="484.90" stroke="#e55a55" stroke-width="1.0" opacity="0.9"/>
<line x1="81.88" y1="467.40" x2="87.88" y2="467.40" stroke="#e55a55" stroke-width="1.0" opacity="0.9"/>
<line x1="81.88" y1="484.90" x2="87.88" y2="484.90" stroke="#e55a55" stroke-width="1.0" opacity="0.9"/>
<line x1="94.65" y1="477.50" x2="94.65" y2="486.20" stroke="#e55a55" stroke-width="1.0" opacity="0.9"/>
<line x1="91.65" y1="477.50" x2="97.65" y2="477.50" stroke="#e55a55" stroke-width="1.0" opacity="0.9"/>
<line x1="91.65" y1="486.20" x2="97.65" y2="486.20" stroke="#e55a55" stroke-width="1.0" opacity="0.9"/>
<line x1="104.42" y1="477.20" x2="104.42" y2="485.60" stroke="#e55a55" stroke-width="1.0" opacity="0.9"/>
<line x1="101.42" y1="477.20" x2="107.42" y2="477.20" stroke="#e55a55" stroke-width="1.0" opacity="0.9"/>
<line x1="101.42" y1="485.60" x2="107.42" y2="485.60" stroke="#e55a55" stroke-width="1.0" opacity="0.9"/>
<line x1="114.20" y1="484.00" x2="114.20" y2="491.00" stroke="#e55a55" stroke-width="1.0" opacity="0.9"/>
<line x1="111.20" y1="484.00" x2="117.20" y2="484.00" stroke="#e55a55" stroke-width="1.0" opacity="0.9"/>
<line x1="111.20" y1="491.00" x2="117.20" y2="491.00" stroke="#e55a55" stroke-width="1.0" opacity="0.9"/>
<line x1="123.97" y1="478.50" x2="123.97" y2="486.20" stroke="#e55a55" stroke-width="1.0" opacity="0.9"/>
<line x1="120.97" y1="478.50" x2="126.97" y2="478.50" stroke="#e55a55" stroke-width="1.0" opacity="0.9"/>
<line x1="120.97" y1="486.20" x2="126.97" y2="486.20" stroke="#e55a55" stroke-width="1.0" opacity="0.9"/>
<line x1="133.75" y1="476.40" x2="133.75" y2="481.50" stroke="#e55a55" stroke-width="1.0" opacity="0.9"/>
<line x1="130.75" y1="476.40" x2="136.75" y2="476.40" stroke="#e55a55" stroke-width="1.0" opacity="0.9"/>
<line x1="130.75" y1="481.50" x2="136.75" y2="481.50" stroke="#e55a55" stroke-width="1.0" opacity="0.9"/>
<line x1="143.53" y1="480.50" x2="143.53" y2="490.70" stroke="#e55a55" stroke-width="1.0" opacity="0.9"/>
<line x1="140.53" y1="480.50" x2="146.53" y2="480.50" stroke="#e55a55" stroke-width="1.0" opacity="0.9"/>
<line x1="140.53" y1="490.70" x2="146.53" y2="490.70" stroke="#e55a55" stroke-width="1.0" opacity="0.9"/>
<line x1="153.30" y1="503.30" x2="153.30" y2="505.50" stroke="#e55a55" stroke-width="1.0" opacity="0.9"/>
<line x1="150.30" y1="503.30" x2="156.30" y2="503.30" stroke="#e55a55" stroke-width="1.0" opacity="0.9"/>
<line x1="150.30" y1="505.50" x2="156.30" y2="505.50" stroke="#e55a55" stroke-width="1.0" opacity="0.9"/>
<line x1="65.33" y1="486.00" x2="65.33" y2="491.00" stroke="#e55a55" stroke-width="1.0" opacity="0.9"/>
<line x1="62.33" y1="486.00" x2="68.33" y2="486.00" stroke="#e55a55" stroke-width="1.0" opacity="0.9"/>
<line x1="62.33" y1="491.00" x2="68.33" y2="491.00" stroke="#e55a55" stroke-width="1.0" opacity="0.9"/>
<line x1="75.10" y1="484.00" x2="75.10" y2="490.00" stroke="#e55a55" stroke-width="1.0" opacity="0.9"/>
<line x1="72.10" y1="484.00" x2="78.10" y2="484.00" stroke="#e55a55" stroke-width="1.0" opacity="0.9"/>
<line x1="72.10" y1="490.00" x2="78.10" y2="490.00" stroke="#e55a55" stroke-width="1.0" opacity="0.9"/>
<line x1="65.33" y1="491.60" x2="65.33" y2="495.30" stroke="#333" stroke-width="1.0"/>
<line x1="62.33" y1="491.60" x2="68.33" y2="491.60" stroke="#333" stroke-width="1.0"/>
<line x1="62.33" y1="495.30" x2="68.33" y2="495.30" stroke="#333" stroke-width="1.0"/>
<line x1="75.10" y1="489.00" x2="75.10" y2="497.40" stroke="#333" stroke-width="1.0"/>
<line x1="72.10" y1="489.00" x2="78.10" y2="489.00" stroke="#333" stroke-width="1.0"/>
<line x1="72.10" y1="497.40" x2="78.10" y2="497.40" stroke="#333" stroke-width="1.0"/>
<line x1="84.88" y1="486.20" x2="84.88" y2="492.00" stroke="#333" stroke-width="1.0"/>
<line x1="81.88" y1="486.20" x2="87.88" y2="486.20" stroke="#333" stroke-width="1.0"/>
<line x1="81.88" y1="492.00" x2="87.88" y2="492.00" stroke="#333" stroke-width="1.0"/>
<line x1="94.65" y1="488.00" x2="94.65" y2="495.30" stroke="#333" stroke-width="1.0"/>
<line x1="91.65" y1="488.00" x2="97.65" y2="488.00" stroke="#333" stroke-width="1.0"/>
<line x1="91.65" y1="495.30" x2="97.65" y2="495.30" stroke="#333" stroke-width="1.0"/>
<line x1="104.42" y1="487.50" x2="104.42" y2="499.00" stroke="#333" stroke-width="1.0"/>
<line x1="101.42" y1="487.50" x2="107.42" y2="487.50" stroke="#333" stroke-width="1.0"/>
<line x1="101.42" y1="499.00" x2="107.42" y2="499.00" stroke="#333" stroke-width="1.0"/>
<line x1="114.20" y1="491.60" x2="114.20" y2="502.40" stroke="#333" stroke-width="1.0"/>
<line x1="111.20" y1="491.60" x2="117.20" y2="491.60" stroke="#333" stroke-width="1.0"/>
<line x1="111.20" y1="502.40" x2="117.20" y2="502.40" stroke="#333" stroke-width="1.0"/>
<line x1="123.97" y1="488.00" x2="123.97" y2="503.30" stroke="#333" stroke-width="1.0"/>
<line x1="120.97" y1="488.00" x2="126.97" y2="488.00" stroke="#333" stroke-width="1.0"/>
<line x1="120.97" y1="503.30" x2="126.97" y2="503.30" stroke="#333" stroke-width="1.0"/>
<line x1="133.75" y1="489.30" x2="133.75" y2="507.80" stroke="#333" stroke-width="1.0"/>
<line x1="130.75" y1="489.30" x2="136.75" y2="489.30" stroke="#333" stroke-width="1.0"/>
<line x1="130.75" y1="507.80" x2="136.75" y2="507.80" stroke="#333" stroke-width="1.0"/>
<line x1="143.53" y1="491.20" x2="143.53" y2="502.40" stroke="#333" stroke-width="1.0"/>
<line x1="140.53" y1="491.20" x2="146.53" y2="491.20" stroke="#333" stroke-width="1.0"/>
<line x1="140.53" y1="502.40" x2="146.53" y2="502.40" stroke="#333" stroke-width="1.0"/>
<line x1="153.30" y1="513.60" x2="153.30" y2="524.90" stroke="#333" stroke-width="1.0"/>
<line x1="150.30" y1="513.60" x2="156.30" y2="513.60" stroke="#333" stroke-width="1.0"/>
<line x1="150.30" y1="524.90" x2="156.30" y2="524.90" stroke="#333" stroke-width="1.0"/>
<line x1="55.55" y1="485.60" x2="55.55" y2="490.30" stroke="#5f6cb8" stroke-width="1.0" opacity="0.9"/>
<line x1="52.55" y1="485.60" x2="58.55" y2="485.60" stroke="#5f6cb8" stroke-width="1.0" opacity="0.9"/>
<line x1="52.55" y1="490.30" x2="58.55" y2="490.30" stroke="#5f6cb8" stroke-width="1.0" opacity="0.9"/>
<line x1="65.33" y1="485.50" x2="65.33" y2="490.00" stroke="#5f6cb8" stroke-width="1.0" opacity="0.9"/>
<line x1="62.33" y1="485.50" x2="68.33" y2="485.50" stroke="#5f6cb8" stroke-width="1.0" opacity="0.9"/>
<line x1="62.33" y1="490.00" x2="68.33" y2="490.00" stroke="#5f6cb8" stroke-width="1.0" opacity="0.9"/>
<line x1="75.10" y1="486.00" x2="75.10" y2="490.50" stroke="#5f6cb8" stroke-width="1.0" opacity="0.9"/>
<line x1="72.10" y1="486.00" x2="78.10" y2="486.00" stroke="#5f6cb8" stroke-width="1.0" opacity="0.9"/>
<line x1="72.10" y1="490.50" x2="78.10" y2="490.50" stroke="#5f6cb8" stroke-width="1.0" opacity="0.9"/>
<line x1="84.88" y1="495.70" x2="84.88" y2="505.00" stroke="#5f6cb8" stroke-width="1.0" opacity="0.9"/>
<line x1="81.88" y1="495.70" x2="87.88" y2="495.70" stroke="#5f6cb8" stroke-width="1.0" opacity="0.9"/>
<line x1="81.88" y1="505.00" x2="87.88" y2="505.00" stroke="#5f6cb8" stroke-width="1.0" opacity="0.9"/>
<line x1="94.65" y1="501.00" x2="94.65" y2="516.50" stroke="#5f6cb8" stroke-width="1.0" opacity="0.9"/>
<line x1="91.65" y1="501.00" x2="97.65" y2="501.00" stroke="#5f6cb8" stroke-width="1.0" opacity="0.9"/>
<line x1="91.65" y1="516.50" x2="97.65" y2="516.50" stroke="#5f6cb8" stroke-width="1.0" opacity="0.9"/>
<line x1="104.42" y1="533.80" x2="104.42" y2="544.30" stroke="#5f6cb8" stroke-width="1.0" opacity="0.9"/>
<line x1="101.42" y1="533.80" x2="107.42" y2="533.80" stroke="#5f6cb8" stroke-width="1.0" opacity="0.9"/>
<line x1="101.42" y1="544.30" x2="107.42" y2="544.30" stroke="#5f6cb8" stroke-width="1.0" opacity="0.9"/>
<line x1="114.20" y1="563.70" x2="114.20" y2="567.00" stroke="#5f6cb8" stroke-width="1.0" opacity="0.9"/>
<line x1="111.20" y1="563.70" x2="117.20" y2="563.70" stroke="#5f6cb8" stroke-width="1.0" opacity="0.9"/>
<line x1="111.20" y1="567.00" x2="117.20" y2="567.00" stroke="#5f6cb8" stroke-width="1.0" opacity="0.9"/>
<line x1="123.97" y1="569.50" x2="123.97" y2="573.00" stroke="#5f6cb8" stroke-width="1.0" opacity="0.9"/>
<line x1="120.97" y1="569.50" x2="126.97" y2="569.50" stroke="#5f6cb8" stroke-width="1.0" opacity="0.9"/>
<line x1="120.97" y1="573.00" x2="126.97" y2="573.00" stroke="#5f6cb8" stroke-width="1.0" opacity="0.9"/>
<line x1="133.75" y1="569.00" x2="133.75" y2="574.00" stroke="#5f6cb8" stroke-width="1.0" opacity="0.9"/>
<line x1="130.75" y1="569.00" x2="136.75" y2="569.00" stroke="#5f6cb8" stroke-width="1.0" opacity="0.9"/>
<line x1="130.75" y1="574.00" x2="136.75" y2="574.00" stroke="#5f6cb8" stroke-width="1.0" opacity="0.9"/>
<line x1="143.53" y1="572.50" x2="143.53" y2="575.00" stroke="#5f6cb8" stroke-width="1.0" opacity="0.9"/>
<line x1="140.53" y1="572.50" x2="146.53" y2="572.50" stroke="#5f6cb8" stroke-width="1.0" opacity="0.9"/>
<line x1="140.53" y1="575.00" x2="146.53" y2="575.00" stroke="#5f6cb8" stroke-width="1.0" opacity="0.9"/>
<line x1="153.30" y1="575.50" x2="153.30" y2="577.50" stroke="#5f6cb8" stroke-width="1.0" opacity="0.9"/>
<line x1="150.30" y1="575.50" x2="156.30" y2="575.50" stroke="#5f6cb8" stroke-width="1.0" opacity="0.9"/>
<line x1="150.30" y1="577.50" x2="156.30" y2="577.50" stroke="#5f6cb8" stroke-width="1.0" opacity="0.9"/>
<path d="M55.80,488.90 C57.33,488.90 61.80,488.73 65.00,488.90 C68.20,489.07 72.50,489.45 75.00,489.90 C77.50,490.35 78.33,490.70 80.00,491.60 C81.67,492.50 83.33,493.62 85.00,495.30 C86.67,496.98 88.45,499.42 90.00,501.70 C91.55,503.98 92.85,505.95 94.30,509.00 C95.75,512.05 97.13,515.42 98.70,520.00 C100.27,524.58 102.02,531.30 103.70,536.50 C105.38,541.70 107.12,546.97 108.80,551.20 C110.48,555.43 112.12,559.07 113.80,561.90 C115.48,564.73 117.10,566.52 118.90,568.20 C120.70,569.88 122.45,570.83 124.60,572.00 C126.75,573.17 129.40,574.35 131.80,575.20 C134.20,576.05 136.83,576.78 139.00,577.10 C141.17,577.42 142.87,577.23 144.80,577.10 C146.73,576.97 148.92,576.38 150.60,576.30 C152.28,576.22 154.18,576.55 154.90,576.60" stroke="#3b4ba8" stroke-width="1.55" fill="none" stroke-linecap="round" stroke-linejoin="round"/>
<path d="M55.80,494.30 C57.33,493.63 61.80,491.75 65.00,490.30 C68.20,488.85 71.67,486.95 75.00,485.60 C78.33,484.25 81.67,482.98 85.00,482.20 C88.33,481.42 91.77,480.85 95.00,480.90 C98.23,480.95 101.15,481.95 104.40,482.50 C107.65,483.05 111.25,484.22 114.50,484.20 C117.75,484.18 120.65,482.85 123.90,482.40 C127.15,481.95 131.32,481.08 134.00,481.50 C136.68,481.92 138.17,483.55 140.00,484.90 C141.83,486.25 143.33,487.70 145.00,489.60 C146.67,491.50 148.58,494.40 150.00,496.30 C151.42,498.20 152.92,500.22 153.50,501.00" stroke="#e8302c" stroke-width="1.55" fill="none" stroke-linecap="round" stroke-linejoin="round"/>
<path d="M55.80,494.30 C57.33,494.08 61.80,493.38 65.00,493.00 C68.20,492.62 71.67,492.30 75.00,492.00 C78.33,491.70 81.67,491.27 85.00,491.20 C88.33,491.13 91.77,491.42 95.00,491.60 C98.23,491.78 101.15,491.90 104.40,492.30 C107.65,492.70 111.25,493.57 114.50,494.00 C117.75,494.43 120.65,494.28 123.90,494.90 C127.15,495.52 131.15,496.43 134.00,497.70 C136.85,498.97 138.53,500.60 141.00,502.50 C143.47,504.40 146.72,507.05 148.80,509.10 C150.88,511.15 152.72,513.85 153.50,514.80" stroke="#111111" stroke-width="1.55" fill="none" stroke-linecap="round" stroke-linejoin="round"/>
<circle cx="55.55" cy="488.30" r="1.5" fill="#3b4ba8"/>
<circle cx="65.33" cy="487.60" r="1.5" fill="#3b4ba8"/>
<circle cx="75.10" cy="488.30" r="1.5" fill="#3b4ba8"/>
<circle cx="84.88" cy="500.40" r="1.5" fill="#3b4ba8"/>
<circle cx="94.65" cy="509.10" r="1.5" fill="#3b4ba8"/>
<circle cx="104.42" cy="539.60" r="1.5" fill="#3b4ba8"/>
<circle cx="114.20" cy="565.50" r="1.5" fill="#3b4ba8"/>
<circle cx="123.97" cy="571.30" r="1.5" fill="#3b4ba8"/>
<circle cx="133.75" cy="571.30" r="1.5" fill="#3b4ba8"/>
<circle cx="143.53" cy="573.80" r="1.5" fill="#3b4ba8"/>
<circle cx="153.30" cy="576.60" r="1.5" fill="#3b4ba8"/>
<circle cx="55.55" cy="494.30" r="1.6" fill="#e8302c"/>
<circle cx="65.33" cy="488.30" r="1.6" fill="#e8302c"/>
<circle cx="75.10" cy="487.60" r="1.6" fill="#e8302c"/>
<circle cx="84.88" cy="476.20" r="1.6" fill="#e8302c"/>
<circle cx="94.65" cy="481.50" r="1.6" fill="#e8302c"/>
<circle cx="104.42" cy="481.50" r="1.6" fill="#e8302c"/>
<circle cx="114.20" cy="486.90" r="1.6" fill="#e8302c"/>
<circle cx="123.97" cy="482.90" r="1.6" fill="#e8302c"/>
<circle cx="133.75" cy="478.80" r="1.6" fill="#e8302c"/>
<circle cx="143.53" cy="484.90" r="1.6" fill="#e8302c"/>
<circle cx="153.30" cy="504.40" r="1.6" fill="#e8302c"/>
<circle cx="65.33" cy="494.30" r="1.6" fill="#111111"/>
<circle cx="75.10" cy="493.00" r="1.6" fill="#111111"/>
<circle cx="84.88" cy="488.90" r="1.6" fill="#111111"/>
<circle cx="94.65" cy="492.30" r="1.6" fill="#111111"/>
<circle cx="104.42" cy="491.20" r="1.6" fill="#111111"/>
<circle cx="114.20" cy="496.30" r="1.6" fill="#111111"/>
<circle cx="123.97" cy="493.40" r="1.6" fill="#111111"/>
<circle cx="133.75" cy="498.40" r="1.6" fill="#111111"/>
<circle cx="143.53" cy="496.60" r="1.6" fill="#111111"/>
<circle cx="153.30" cy="519.30" r="1.6" fill="#111111"/>
<line x1="200.38" y1="480.00" x2="200.38" y2="490.00" stroke="#e55a55" stroke-width="1.0" opacity="0.85"/>
<line x1="197.68" y1="480.00" x2="203.08" y2="480.00" stroke="#e55a55" stroke-width="1.0" opacity="0.85"/>
<line x1="197.68" y1="490.00" x2="203.08" y2="490.00" stroke="#e55a55" stroke-width="1.0" opacity="0.85"/>
<line x1="207.57" y1="474.00" x2="207.57" y2="485.00" stroke="#e55a55" stroke-width="1.0" opacity="0.85"/>
<line x1="204.87" y1="474.00" x2="210.27" y2="474.00" stroke="#e55a55" stroke-width="1.0" opacity="0.85"/>
<line x1="204.87" y1="485.00" x2="210.27" y2="485.00" stroke="#e55a55" stroke-width="1.0" opacity="0.85"/>
<line x1="214.75" y1="448.10" x2="214.75" y2="470.00" stroke="#e55a55" stroke-width="1.0" opacity="0.85"/>
<line x1="212.05" y1="448.10" x2="217.45" y2="448.10" stroke="#e55a55" stroke-width="1.0" opacity="0.85"/>
<line x1="212.05" y1="470.00" x2="217.45" y2="470.00" stroke="#e55a55" stroke-width="1.0" opacity="0.85"/>
<line x1="221.94" y1="460.20" x2="221.94" y2="482.00" stroke="#e55a55" stroke-width="1.0" opacity="0.85"/>
<line x1="219.24" y1="460.20" x2="224.64" y2="460.20" stroke="#e55a55" stroke-width="1.0" opacity="0.85"/>
<line x1="219.24" y1="482.00" x2="224.64" y2="482.00" stroke="#e55a55" stroke-width="1.0" opacity="0.85"/>
<line x1="229.12" y1="449.20" x2="229.12" y2="470.60" stroke="#e55a55" stroke-width="1.0" opacity="0.85"/>
<line x1="226.42" y1="449.20" x2="231.82" y2="449.20" stroke="#e55a55" stroke-width="1.0" opacity="0.85"/>
<line x1="226.42" y1="470.60" x2="231.82" y2="470.60" stroke="#e55a55" stroke-width="1.0" opacity="0.85"/>
<line x1="236.31" y1="490.00" x2="236.31" y2="501.00" stroke="#e55a55" stroke-width="1.0" opacity="0.85"/>
<line x1="233.61" y1="490.00" x2="239.01" y2="490.00" stroke="#e55a55" stroke-width="1.0" opacity="0.85"/>
<line x1="233.61" y1="501.00" x2="239.01" y2="501.00" stroke="#e55a55" stroke-width="1.0" opacity="0.85"/>
<line x1="243.49" y1="487.40" x2="243.49" y2="510.00" stroke="#e55a55" stroke-width="1.0" opacity="0.85"/>
<line x1="240.79" y1="487.40" x2="246.19" y2="487.40" stroke="#e55a55" stroke-width="1.0" opacity="0.85"/>
<line x1="240.79" y1="510.00" x2="246.19" y2="510.00" stroke="#e55a55" stroke-width="1.0" opacity="0.85"/>
<line x1="250.68" y1="488.30" x2="250.68" y2="520.00" stroke="#e55a55" stroke-width="1.0" opacity="0.85"/>
<line x1="247.98" y1="488.30" x2="253.38" y2="488.30" stroke="#e55a55" stroke-width="1.0" opacity="0.85"/>
<line x1="247.98" y1="520.00" x2="253.38" y2="520.00" stroke="#e55a55" stroke-width="1.0" opacity="0.85"/>
<line x1="257.86" y1="493.00" x2="257.86" y2="535.00" stroke="#e55a55" stroke-width="1.0" opacity="0.85"/>
<line x1="255.16" y1="493.00" x2="260.56" y2="493.00" stroke="#e55a55" stroke-width="1.0" opacity="0.85"/>
<line x1="255.16" y1="535.00" x2="260.56" y2="535.00" stroke="#e55a55" stroke-width="1.0" opacity="0.85"/>
<line x1="265.05" y1="538.00" x2="265.05" y2="548.00" stroke="#e55a55" stroke-width="1.0" opacity="0.85"/>
<line x1="262.35" y1="538.00" x2="267.75" y2="538.00" stroke="#e55a55" stroke-width="1.0" opacity="0.85"/>
<line x1="262.35" y1="548.00" x2="267.75" y2="548.00" stroke="#e55a55" stroke-width="1.0" opacity="0.85"/>
<line x1="272.23" y1="548.00" x2="272.23" y2="555.00" stroke="#e55a55" stroke-width="1.0" opacity="0.85"/>
<line x1="269.53" y1="548.00" x2="274.93" y2="548.00" stroke="#e55a55" stroke-width="1.0" opacity="0.85"/>
<line x1="269.53" y1="555.00" x2="274.93" y2="555.00" stroke="#e55a55" stroke-width="1.0" opacity="0.85"/>
<line x1="279.42" y1="550.00" x2="279.42" y2="557.00" stroke="#e55a55" stroke-width="1.0" opacity="0.85"/>
<line x1="276.72" y1="550.00" x2="282.12" y2="550.00" stroke="#e55a55" stroke-width="1.0" opacity="0.85"/>
<line x1="276.72" y1="557.00" x2="282.12" y2="557.00" stroke="#e55a55" stroke-width="1.0" opacity="0.85"/>
<line x1="286.60" y1="548.00" x2="286.60" y2="555.00" stroke="#e55a55" stroke-width="1.0" opacity="0.85"/>
<line x1="283.90" y1="548.00" x2="289.30" y2="548.00" stroke="#e55a55" stroke-width="1.0" opacity="0.85"/>
<line x1="283.90" y1="555.00" x2="289.30" y2="555.00" stroke="#e55a55" stroke-width="1.0" opacity="0.85"/>
<line x1="293.79" y1="551.00" x2="293.79" y2="558.00" stroke="#e55a55" stroke-width="1.0" opacity="0.85"/>
<line x1="291.09" y1="551.00" x2="296.49" y2="551.00" stroke="#e55a55" stroke-width="1.0" opacity="0.85"/>
<line x1="291.09" y1="558.00" x2="296.49" y2="558.00" stroke="#e55a55" stroke-width="1.0" opacity="0.85"/>
<line x1="300.97" y1="551.00" x2="300.97" y2="556.00" stroke="#e55a55" stroke-width="1.0" opacity="0.85"/>
<line x1="298.27" y1="551.00" x2="303.67" y2="551.00" stroke="#e55a55" stroke-width="1.0" opacity="0.85"/>
<line x1="298.27" y1="556.00" x2="303.67" y2="556.00" stroke="#e55a55" stroke-width="1.0" opacity="0.85"/>
<line x1="200.38" y1="481.00" x2="200.38" y2="490.00" stroke="#5f6cb8" stroke-width="1.0" opacity="0.85"/>
<line x1="197.68" y1="481.00" x2="203.08" y2="481.00" stroke="#5f6cb8" stroke-width="1.0" opacity="0.85"/>
<line x1="197.68" y1="490.00" x2="203.08" y2="490.00" stroke="#5f6cb8" stroke-width="1.0" opacity="0.85"/>
<line x1="207.57" y1="479.00" x2="207.57" y2="489.00" stroke="#5f6cb8" stroke-width="1.0" opacity="0.85"/>
<line x1="204.87" y1="479.00" x2="210.27" y2="479.00" stroke="#5f6cb8" stroke-width="1.0" opacity="0.85"/>
<line x1="204.87" y1="489.00" x2="210.27" y2="489.00" stroke="#5f6cb8" stroke-width="1.0" opacity="0.85"/>
<line x1="214.75" y1="472.00" x2="214.75" y2="482.00" stroke="#5f6cb8" stroke-width="1.0" opacity="0.85"/>
<line x1="212.05" y1="472.00" x2="217.45" y2="472.00" stroke="#5f6cb8" stroke-width="1.0" opacity="0.85"/>
<line x1="212.05" y1="482.00" x2="217.45" y2="482.00" stroke="#5f6cb8" stroke-width="1.0" opacity="0.85"/>
<line x1="221.94" y1="478.00" x2="221.94" y2="490.00" stroke="#5f6cb8" stroke-width="1.0" opacity="0.85"/>
<line x1="219.24" y1="478.00" x2="224.64" y2="478.00" stroke="#5f6cb8" stroke-width="1.0" opacity="0.85"/>
<line x1="219.24" y1="490.00" x2="224.64" y2="490.00" stroke="#5f6cb8" stroke-width="1.0" opacity="0.85"/>
<line x1="229.12" y1="474.00" x2="229.12" y2="486.00" stroke="#5f6cb8" stroke-width="1.0" opacity="0.85"/>
<line x1="226.42" y1="474.00" x2="231.82" y2="474.00" stroke="#5f6cb8" stroke-width="1.0" opacity="0.85"/>
<line x1="226.42" y1="486.00" x2="231.82" y2="486.00" stroke="#5f6cb8" stroke-width="1.0" opacity="0.85"/>
<line x1="236.31" y1="480.00" x2="236.31" y2="492.00" stroke="#5f6cb8" stroke-width="1.0" opacity="0.85"/>
<line x1="233.61" y1="480.00" x2="239.01" y2="480.00" stroke="#5f6cb8" stroke-width="1.0" opacity="0.85"/>
<line x1="233.61" y1="492.00" x2="239.01" y2="492.00" stroke="#5f6cb8" stroke-width="1.0" opacity="0.85"/>
<line x1="243.49" y1="483.00" x2="243.49" y2="498.00" stroke="#5f6cb8" stroke-width="1.0" opacity="0.85"/>
<line x1="240.79" y1="483.00" x2="246.19" y2="483.00" stroke="#5f6cb8" stroke-width="1.0" opacity="0.85"/>
<line x1="240.79" y1="498.00" x2="246.19" y2="498.00" stroke="#5f6cb8" stroke-width="1.0" opacity="0.85"/>
<line x1="250.68" y1="487.40" x2="250.68" y2="510.00" stroke="#5f6cb8" stroke-width="1.0" opacity="0.85"/>
<line x1="247.98" y1="487.40" x2="253.38" y2="487.40" stroke="#5f6cb8" stroke-width="1.0" opacity="0.85"/>
<line x1="247.98" y1="510.00" x2="253.38" y2="510.00" stroke="#5f6cb8" stroke-width="1.0" opacity="0.85"/>
<line x1="257.86" y1="492.80" x2="257.86" y2="528.00" stroke="#5f6cb8" stroke-width="1.0" opacity="0.85"/>
<line x1="255.16" y1="492.80" x2="260.56" y2="492.80" stroke="#5f6cb8" stroke-width="1.0" opacity="0.85"/>
<line x1="255.16" y1="528.00" x2="260.56" y2="528.00" stroke="#5f6cb8" stroke-width="1.0" opacity="0.85"/>
<line x1="265.05" y1="502.50" x2="265.05" y2="506.50" stroke="#5f6cb8" stroke-width="1.0" opacity="0.85"/>
<line x1="262.35" y1="502.50" x2="267.75" y2="502.50" stroke="#5f6cb8" stroke-width="1.0" opacity="0.85"/>
<line x1="262.35" y1="506.50" x2="267.75" y2="506.50" stroke="#5f6cb8" stroke-width="1.0" opacity="0.85"/>
<line x1="272.23" y1="535.50" x2="272.23" y2="540.00" stroke="#5f6cb8" stroke-width="1.0" opacity="0.85"/>
<line x1="269.53" y1="535.50" x2="274.93" y2="535.50" stroke="#5f6cb8" stroke-width="1.0" opacity="0.85"/>
<line x1="269.53" y1="540.00" x2="274.93" y2="540.00" stroke="#5f6cb8" stroke-width="1.0" opacity="0.85"/>
<line x1="279.42" y1="546.00" x2="279.42" y2="552.00" stroke="#5f6cb8" stroke-width="1.0" opacity="0.85"/>
<line x1="276.72" y1="546.00" x2="282.12" y2="546.00" stroke="#5f6cb8" stroke-width="1.0" opacity="0.85"/>
<line x1="276.72" y1="552.00" x2="282.12" y2="552.00" stroke="#5f6cb8" stroke-width="1.0" opacity="0.85"/>
<line x1="286.60" y1="551.00" x2="286.60" y2="558.00" stroke="#5f6cb8" stroke-width="1.0" opacity="0.85"/>
<line x1="283.90" y1="551.00" x2="289.30" y2="551.00" stroke="#5f6cb8" stroke-width="1.0" opacity="0.85"/>
<line x1="283.90" y1="558.00" x2="289.30" y2="558.00" stroke="#5f6cb8" stroke-width="1.0" opacity="0.85"/>
<line x1="293.79" y1="554.00" x2="293.79" y2="561.00" stroke="#5f6cb8" stroke-width="1.0" opacity="0.85"/>
<line x1="291.09" y1="554.00" x2="296.49" y2="554.00" stroke="#5f6cb8" stroke-width="1.0" opacity="0.85"/>
<line x1="291.09" y1="561.00" x2="296.49" y2="561.00" stroke="#5f6cb8" stroke-width="1.0" opacity="0.85"/>
<line x1="300.97" y1="566.00" x2="300.97" y2="578.00" stroke="#5f6cb8" stroke-width="1.0" opacity="0.85"/>
<line x1="298.27" y1="566.00" x2="303.67" y2="566.00" stroke="#5f6cb8" stroke-width="1.0" opacity="0.85"/>
<line x1="298.27" y1="578.00" x2="303.67" y2="578.00" stroke="#5f6cb8" stroke-width="1.0" opacity="0.85"/>
<line x1="200.38" y1="488.50" x2="200.38" y2="493.00" stroke="#333" stroke-width="1.0" opacity="0.9"/>
<line x1="197.68" y1="488.50" x2="203.08" y2="488.50" stroke="#333" stroke-width="1.0" opacity="0.9"/>
<line x1="197.68" y1="493.00" x2="203.08" y2="493.00" stroke="#333" stroke-width="1.0" opacity="0.9"/>
<line x1="207.57" y1="487.50" x2="207.57" y2="491.50" stroke="#333" stroke-width="1.0" opacity="0.9"/>
<line x1="204.87" y1="487.50" x2="210.27" y2="487.50" stroke="#333" stroke-width="1.0" opacity="0.9"/>
<line x1="204.87" y1="491.50" x2="210.27" y2="491.50" stroke="#333" stroke-width="1.0" opacity="0.9"/>
<line x1="214.75" y1="477.00" x2="214.75" y2="483.00" stroke="#333" stroke-width="1.0" opacity="0.9"/>
<line x1="212.05" y1="477.00" x2="217.45" y2="477.00" stroke="#333" stroke-width="1.0" opacity="0.9"/>
<line x1="212.05" y1="483.00" x2="217.45" y2="483.00" stroke="#333" stroke-width="1.0" opacity="0.9"/>
<line x1="221.94" y1="486.00" x2="221.94" y2="493.00" stroke="#333" stroke-width="1.0" opacity="0.9"/>
<line x1="219.24" y1="486.00" x2="224.64" y2="486.00" stroke="#333" stroke-width="1.0" opacity="0.9"/>
<line x1="219.24" y1="493.00" x2="224.64" y2="493.00" stroke="#333" stroke-width="1.0" opacity="0.9"/>
<line x1="229.12" y1="484.00" x2="229.12" y2="493.00" stroke="#333" stroke-width="1.0" opacity="0.9"/>
<line x1="226.42" y1="484.00" x2="231.82" y2="484.00" stroke="#333" stroke-width="1.0" opacity="0.9"/>
<line x1="226.42" y1="493.00" x2="231.82" y2="493.00" stroke="#333" stroke-width="1.0" opacity="0.9"/>
<line x1="236.31" y1="500.00" x2="236.31" y2="523.00" stroke="#333" stroke-width="1.0" opacity="0.9"/>
<line x1="233.61" y1="500.00" x2="239.01" y2="500.00" stroke="#333" stroke-width="1.0" opacity="0.9"/>
<line x1="233.61" y1="523.00" x2="239.01" y2="523.00" stroke="#333" stroke-width="1.0" opacity="0.9"/>
<line x1="243.49" y1="497.00" x2="243.49" y2="541.00" stroke="#333" stroke-width="1.0" opacity="0.9"/>
<line x1="240.79" y1="497.00" x2="246.19" y2="497.00" stroke="#333" stroke-width="1.0" opacity="0.9"/>
<line x1="240.79" y1="541.00" x2="246.19" y2="541.00" stroke="#333" stroke-width="1.0" opacity="0.9"/>
<line x1="250.68" y1="555.00" x2="250.68" y2="560.00" stroke="#333" stroke-width="1.0" opacity="0.9"/>
<line x1="247.98" y1="555.00" x2="253.38" y2="555.00" stroke="#333" stroke-width="1.0" opacity="0.9"/>
<line x1="247.98" y1="560.00" x2="253.38" y2="560.00" stroke="#333" stroke-width="1.0" opacity="0.9"/>
<line x1="257.86" y1="535.40" x2="257.86" y2="566.20" stroke="#333" stroke-width="1.0" opacity="0.9"/>
<line x1="255.16" y1="535.40" x2="260.56" y2="535.40" stroke="#333" stroke-width="1.0" opacity="0.9"/>
<line x1="255.16" y1="566.20" x2="260.56" y2="566.20" stroke="#333" stroke-width="1.0" opacity="0.9"/>
<line x1="265.05" y1="564.60" x2="265.05" y2="573.80" stroke="#333" stroke-width="1.0" opacity="0.9"/>
<line x1="262.35" y1="564.60" x2="267.75" y2="564.60" stroke="#333" stroke-width="1.0" opacity="0.9"/>
<line x1="262.35" y1="573.80" x2="267.75" y2="573.80" stroke="#333" stroke-width="1.0" opacity="0.9"/>
<line x1="272.23" y1="565.80" x2="272.23" y2="577.70" stroke="#333" stroke-width="1.0" opacity="0.9"/>
<line x1="269.53" y1="565.80" x2="274.93" y2="565.80" stroke="#333" stroke-width="1.0" opacity="0.9"/>
<line x1="269.53" y1="577.70" x2="274.93" y2="577.70" stroke="#333" stroke-width="1.0" opacity="0.9"/>
<line x1="279.42" y1="565.80" x2="279.42" y2="577.70" stroke="#333" stroke-width="1.0" opacity="0.9"/>
<line x1="276.72" y1="565.80" x2="282.12" y2="565.80" stroke="#333" stroke-width="1.0" opacity="0.9"/>
<line x1="276.72" y1="577.70" x2="282.12" y2="577.70" stroke="#333" stroke-width="1.0" opacity="0.9"/>
<line x1="286.60" y1="565.80" x2="286.60" y2="577.70" stroke="#333" stroke-width="1.0" opacity="0.9"/>
<line x1="283.90" y1="565.80" x2="289.30" y2="565.80" stroke="#333" stroke-width="1.0" opacity="0.9"/>
<line x1="283.90" y1="577.70" x2="289.30" y2="577.70" stroke="#333" stroke-width="1.0" opacity="0.9"/>
<line x1="293.79" y1="565.80" x2="293.79" y2="577.70" stroke="#333" stroke-width="1.0" opacity="0.9"/>
<line x1="291.09" y1="565.80" x2="296.49" y2="565.80" stroke="#333" stroke-width="1.0" opacity="0.9"/>
<line x1="291.09" y1="577.70" x2="296.49" y2="577.70" stroke="#333" stroke-width="1.0" opacity="0.9"/>
<line x1="300.97" y1="566.90" x2="300.97" y2="577.50" stroke="#333" stroke-width="1.0" opacity="0.9"/>
<line x1="298.27" y1="566.90" x2="303.67" y2="566.90" stroke="#333" stroke-width="1.0" opacity="0.9"/>
<line x1="298.27" y1="577.50" x2="303.67" y2="577.50" stroke="#333" stroke-width="1.0" opacity="0.9"/>
<path d="M201.00,486.20 C202.12,485.75 205.23,484.23 207.70,483.50 C210.17,482.77 213.33,482.08 215.80,481.80 C218.27,481.52 220.48,481.52 222.50,481.80 C224.52,482.08 225.85,482.60 227.90,483.50 C229.95,484.40 232.10,485.53 234.80,487.20 C237.50,488.87 241.27,491.50 244.10,493.50 C246.93,495.50 249.50,496.95 251.80,499.20 C254.10,501.45 255.60,503.67 257.90,507.00 C260.20,510.33 263.03,514.87 265.60,519.20 C268.17,523.53 270.73,528.63 273.30,533.00 C275.87,537.37 278.57,541.42 281.00,545.40 C283.43,549.38 285.72,553.43 287.90,556.90 C290.08,560.37 291.92,563.38 294.10,566.20 C296.28,569.02 299.85,572.53 301.00,573.80" stroke="#3b4ba8" stroke-width="1.55" fill="none" stroke-linecap="round" stroke-linejoin="round"/>
<path d="M201.00,482.80 C202.12,481.57 205.23,477.20 207.70,475.40 C210.17,473.60 213.33,472.57 215.80,472.00 C218.27,471.43 220.48,471.42 222.50,472.00 C224.52,472.58 225.85,473.42 227.90,475.50 C229.95,477.58 232.10,480.92 234.80,484.50 C237.50,488.08 241.53,492.75 244.10,497.00 C246.67,501.25 247.90,505.27 250.20,510.00 C252.50,514.73 255.58,520.78 257.90,525.40 C260.22,530.02 262.23,534.43 264.10,537.70 C265.97,540.97 267.43,542.87 269.10,545.00 C270.77,547.13 271.98,548.90 274.10,550.50 C276.22,552.10 279.25,553.85 281.80,554.60 C284.35,555.35 286.20,555.13 289.40,555.00 C292.60,554.87 299.07,554.00 301.00,553.80" stroke="#e8302c" stroke-width="1.55" fill="none" stroke-linecap="round" stroke-linejoin="round"/>
<path d="M199.60,490.20 C200.73,489.53 204.15,487.22 206.40,486.20 C208.65,485.18 210.87,484.33 213.10,484.10 C215.33,483.87 217.72,483.90 219.80,484.80 C221.88,485.70 223.60,486.77 225.60,489.50 C227.60,492.23 229.88,497.53 231.80,501.20 C233.72,504.87 235.43,507.98 237.10,511.50 C238.77,515.02 240.38,518.80 241.80,522.30 C243.22,525.80 244.20,529.17 245.60,532.50 C247.00,535.83 248.78,539.47 250.20,542.30 C251.62,545.13 252.43,546.55 254.10,549.50 C255.77,552.45 258.15,556.97 260.20,560.00 C262.25,563.03 264.08,565.65 266.40,567.70 C268.72,569.75 271.53,571.22 274.10,572.30 C276.67,573.38 279.50,573.88 281.80,574.20 C284.10,574.52 285.85,574.40 287.90,574.20 C289.95,574.00 291.92,573.57 294.10,573.00 C296.28,572.43 299.85,571.17 301.00,570.80" stroke="#111111" stroke-width="1.55" fill="none" stroke-linecap="round" stroke-linejoin="round"/>
<circle cx="200.38" cy="486.00" r="1.5" fill="#3b4ba8"/>
<circle cx="207.57" cy="484.00" r="1.5" fill="#3b4ba8"/>
<circle cx="214.75" cy="476.70" r="1.5" fill="#3b4ba8"/>
<circle cx="221.94" cy="484.00" r="1.5" fill="#3b4ba8"/>
<circle cx="229.12" cy="479.80" r="1.5" fill="#3b4ba8"/>
<circle cx="236.31" cy="486.00" r="1.5" fill="#3b4ba8"/>
<circle cx="243.49" cy="490.00" r="1.5" fill="#3b4ba8"/>
<circle cx="250.68" cy="498.20" r="1.5" fill="#3b4ba8"/>
<circle cx="257.86" cy="510.70" r="1.5" fill="#3b4ba8"/>
<circle cx="265.05" cy="504.50" r="1.5" fill="#3b4ba8"/>
<circle cx="272.23" cy="537.80" r="1.5" fill="#3b4ba8"/>
<circle cx="279.42" cy="549.20" r="1.5" fill="#3b4ba8"/>
<circle cx="286.60" cy="554.60" r="1.5" fill="#3b4ba8"/>
<circle cx="293.79" cy="557.70" r="1.5" fill="#3b4ba8"/>
<circle cx="300.97" cy="573.00" r="1.5" fill="#3b4ba8"/>
<circle cx="200.38" cy="483.50" r="1.6" fill="#e8302c"/>
<circle cx="207.57" cy="479.20" r="1.6" fill="#e8302c"/>
<circle cx="214.75" cy="464.80" r="1.6" fill="#e8302c"/>
<circle cx="221.94" cy="471.70" r="1.6" fill="#e8302c"/>
<circle cx="229.12" cy="467.30" r="1.6" fill="#e8302c"/>
<circle cx="236.31" cy="495.60" r="1.6" fill="#e8302c"/>
<circle cx="243.49" cy="494.90" r="1.6" fill="#e8302c"/>
<circle cx="250.68" cy="513.60" r="1.6" fill="#e8302c"/>
<circle cx="257.86" cy="528.50" r="1.6" fill="#e8302c"/>
<circle cx="265.05" cy="543.50" r="1.6" fill="#e8302c"/>
<circle cx="272.23" cy="551.50" r="1.6" fill="#e8302c"/>
<circle cx="279.42" cy="553.80" r="1.6" fill="#e8302c"/>
<circle cx="286.60" cy="551.50" r="1.6" fill="#e8302c"/>
<circle cx="293.79" cy="554.60" r="1.6" fill="#e8302c"/>
<circle cx="300.97" cy="553.10" r="1.6" fill="#e8302c"/>
<circle cx="200.38" cy="490.90" r="1.6" fill="#111111"/>
<circle cx="207.57" cy="489.50" r="1.6" fill="#111111"/>
<circle cx="214.75" cy="480.10" r="1.6" fill="#111111"/>
<circle cx="221.94" cy="489.50" r="1.6" fill="#111111"/>
<circle cx="229.12" cy="488.80" r="1.6" fill="#111111"/>
<circle cx="236.31" cy="511.70" r="1.6" fill="#111111"/>
<circle cx="243.49" cy="519.10" r="1.6" fill="#111111"/>
<circle cx="250.68" cy="557.70" r="1.6" fill="#111111"/>
<circle cx="257.86" cy="551.50" r="1.6" fill="#111111"/>
<circle cx="265.05" cy="568.90" r="1.6" fill="#111111"/>
<circle cx="272.23" cy="570.80" r="1.6" fill="#111111"/>
<circle cx="279.42" cy="572.30" r="1.6" fill="#111111"/>
<circle cx="286.60" cy="571.80" r="1.6" fill="#111111"/>
<circle cx="293.79" cy="572.30" r="1.6" fill="#111111"/>
<circle cx="300.97" cy="573.00" r="1.6" fill="#111111"/>
<text x="283.64" y="480.60" font-family="'Liberation Sans', Arial, sans-serif" font-size="9.3" font-weight="400" fill="#1a1a1a" textLength="34.82" lengthAdjust="spacingAndGlyphs">Cell type</text>
<line x1="285.30" y1="489.40" x2="294.30" y2="489.40" stroke="#111111" stroke-width="1.6"/>
<circle cx="289.80" cy="489.40" r="1.5" fill="#111111"/>
<line x1="285.30" y1="501.50" x2="294.30" y2="501.50" stroke="#e8302c" stroke-width="1.6"/>
<circle cx="289.80" cy="501.50" r="1.5" fill="#e8302c"/>
<line x1="285.30" y1="513.40" x2="294.30" y2="513.40" stroke="#3b4ba8" stroke-width="1.6"/>
<circle cx="289.80" cy="513.40" r="1.5" fill="#3b4ba8"/>
<text x="296.50" y="492.20" font-family="'DejaVu Sans', Verdana, sans-serif" font-size="6.7" font-weight="400" fill="#1a1a1a" textLength="30.40" lengthAdjust="spacingAndGlyphs">OCIAML3</text>
<text x="296.50" y="504.40" font-family="'DejaVu Sans', Verdana, sans-serif" font-size="6.7" font-weight="400" fill="#1a1a1a" textLength="30.40" lengthAdjust="spacingAndGlyphs">OCIAML5</text>
<text x="298.40" y="516.30" font-family="'DejaVu Sans', Verdana, sans-serif" font-size="6.7" font-weight="400" fill="#1a1a1a" textLength="12.70" lengthAdjust="spacingAndGlyphs">PC9</text>
<text transform="translate(333.20,422.80) scale(1.0,1)" x="0" y="0" text-anchor="start" font-family="'Liberation Sans', Arial, sans-serif" font-size="15.0" font-weight="700" fill="#111">E</text>
<text x="370.61" y="426.10" font-family="'DejaVu Sans', Verdana, sans-serif" font-size="9.8" font-weight="400" fill="#1a1a1a" textLength="138.78" lengthAdjust="spacingAndGlyphs">NIH-3T3 Soft-agar growth in</text>
<text x="414.21" y="437.60" font-family="'DejaVu Sans', Verdana, sans-serif" font-size="9.8" font-weight="400" fill="#1a1a1a" textLength="52.98" lengthAdjust="spacingAndGlyphs">trametinib</text>
<line x1="367.60" y1="429.80" x2="367.60" y2="593.00" stroke="#4a4a4a" stroke-width="1.0"/>
<line x1="367.10" y1="592.60" x2="516.50" y2="592.60" stroke="#4a4a4a" stroke-width="1.0"/>
<line x1="365.20" y1="442.95" x2="367.60" y2="442.95" stroke="#4a4a4a" stroke-width="1"/>
<text transform="translate(364.80,445.85) scale(1.0,1)" x="0" y="0" text-anchor="end" font-family="'DejaVu Sans', Verdana, sans-serif" font-size="8.0" font-weight="400" fill="#2a2a2a">1.5</text>
<line x1="365.20" y1="488.90" x2="367.60" y2="488.90" stroke="#4a4a4a" stroke-width="1"/>
<text transform="translate(364.80,491.80) scale(1.0,1)" x="0" y="0" text-anchor="end" font-family="'DejaVu Sans', Verdana, sans-serif" font-size="8.0" font-weight="400" fill="#2a2a2a">1.0</text>
<line x1="365.20" y1="534.85" x2="367.60" y2="534.85" stroke="#4a4a4a" stroke-width="1"/>
<text transform="translate(364.80,537.75) scale(1.0,1)" x="0" y="0" text-anchor="end" font-family="'DejaVu Sans', Verdana, sans-serif" font-size="8.0" font-weight="400" fill="#2a2a2a">0.5</text>
<line x1="365.20" y1="580.80" x2="367.60" y2="580.80" stroke="#4a4a4a" stroke-width="1"/>
<text transform="translate(364.80,583.70) scale(1.0,1)" x="0" y="0" text-anchor="end" font-family="'DejaVu Sans', Verdana, sans-serif" font-size="8.0" font-weight="400" fill="#2a2a2a">0.0</text>
<line x1="376.40" y1="592.60" x2="376.40" y2="595.00" stroke="#4a4a4a" stroke-width="1"/>
<text transform="translate(375.80,602.60) scale(1.0,1)" x="0" y="0" text-anchor="middle" font-family="'DejaVu Sans', Verdana, sans-serif" font-size="8.0" font-weight="400" fill="#2a2a2a">-4</text>
<line x1="402.40" y1="592.60" x2="402.40" y2="595.00" stroke="#4a4a4a" stroke-width="1"/>
<text transform="translate(401.80,602.60) scale(1.0,1)" x="0" y="0" text-anchor="middle" font-family="'DejaVu Sans', Verdana, sans-serif" font-size="8.0" font-weight="400" fill="#2a2a2a">-3</text>
<line x1="428.40" y1="592.60" x2="428.40" y2="595.00" stroke="#4a4a4a" stroke-width="1"/>
<text transform="translate(427.80,602.60) scale(1.0,1)" x="0" y="0" text-anchor="middle" font-family="'DejaVu Sans', Verdana, sans-serif" font-size="8.0" font-weight="400" fill="#2a2a2a">-2</text>
<line x1="454.40" y1="592.60" x2="454.40" y2="595.00" stroke="#4a4a4a" stroke-width="1"/>
<text transform="translate(453.80,602.60) scale(1.0,1)" x="0" y="0" text-anchor="middle" font-family="'DejaVu Sans', Verdana, sans-serif" font-size="8.0" font-weight="400" fill="#2a2a2a">-1</text>
<line x1="480.40" y1="592.60" x2="480.40" y2="595.00" stroke="#4a4a4a" stroke-width="1"/>
<text transform="translate(480.40,602.60) scale(1.0,1)" x="0" y="0" text-anchor="middle" font-family="'DejaVu Sans', Verdana, sans-serif" font-size="8.0" font-weight="400" fill="#2a2a2a">0</text>
<line x1="506.40" y1="592.60" x2="506.40" y2="595.00" stroke="#4a4a4a" stroke-width="1"/>
<text transform="translate(506.40,602.60) scale(1.0,1)" x="0" y="0" text-anchor="middle" font-family="'DejaVu Sans', Verdana, sans-serif" font-size="8.0" font-weight="400" fill="#2a2a2a">1</text>
<text transform="translate(344.10,579.54) rotate(-90)" x="0" y="0" font-family="'Liberation Sans', Arial, sans-serif" font-size="10.6" font-weight="400" fill="#1a1a1a" textLength="129.77" lengthAdjust="spacingAndGlyphs">Colonies relative to control</text>
<line x1="376.40" y1="445.20" x2="376.40" y2="491.70" stroke="#e7737a" stroke-width="1.0" opacity="0.75"/>
<line x1="373.20" y1="445.20" x2="379.60" y2="445.20" stroke="#e7737a" stroke-width="1.0" opacity="0.75"/>
<line x1="373.20" y1="491.70" x2="379.60" y2="491.70" stroke="#e7737a" stroke-width="1.0" opacity="0.75"/>
<line x1="402.40" y1="437.20" x2="402.40" y2="488.50" stroke="#e7737a" stroke-width="1.0" opacity="0.75"/>
<line x1="399.20" y1="437.20" x2="405.60" y2="437.20" stroke="#e7737a" stroke-width="1.0" opacity="0.75"/>
<line x1="399.20" y1="488.50" x2="405.60" y2="488.50" stroke="#e7737a" stroke-width="1.0" opacity="0.75"/>
<line x1="428.40" y1="467.90" x2="428.40" y2="492.90" stroke="#e7737a" stroke-width="1.0" opacity="0.75"/>
<line x1="425.20" y1="467.90" x2="431.60" y2="467.90" stroke="#e7737a" stroke-width="1.0" opacity="0.75"/>
<line x1="425.20" y1="492.90" x2="431.60" y2="492.90" stroke="#e7737a" stroke-width="1.0" opacity="0.75"/>
<line x1="376.40" y1="470.00" x2="376.40" y2="505.00" stroke="#2cb5b7" stroke-width="1.0" opacity="0.6"/>
<line x1="373.20" y1="470.00" x2="379.60" y2="470.00" stroke="#2cb5b7" stroke-width="1.0" opacity="0.6"/>
<line x1="373.20" y1="505.00" x2="379.60" y2="505.00" stroke="#2cb5b7" stroke-width="1.0" opacity="0.6"/>
<line x1="402.40" y1="500.20" x2="402.40" y2="529.20" stroke="#2cb5b7" stroke-width="1.0" opacity="0.7"/>
<line x1="399.20" y1="500.20" x2="405.60" y2="500.20" stroke="#2cb5b7" stroke-width="1.0" opacity="0.7"/>
<line x1="399.20" y1="529.20" x2="405.60" y2="529.20" stroke="#2cb5b7" stroke-width="1.0" opacity="0.7"/>
<path d="M376.40,468.30 C377.70,467.58 381.30,465.03 384.20,464.00 C387.10,462.97 390.65,462.35 393.80,462.10 C396.95,461.85 399.90,462.23 403.10,462.50 C406.30,462.77 409.73,462.65 413.00,463.70 C416.27,464.75 419.97,466.02 422.70,468.80 C425.43,471.58 427.48,476.23 429.40,480.40 C431.32,484.57 432.60,488.37 434.20,493.80 C435.80,499.23 437.40,506.47 439.00,513.00 C440.60,519.53 442.38,526.83 443.80,533.00 C445.22,539.17 446.15,544.47 447.50,550.00 C448.85,555.53 450.58,561.78 451.90,566.20 C453.22,570.62 454.05,573.62 455.40,576.50 C456.75,579.38 458.27,581.98 460.00,583.50 C461.73,585.02 463.50,585.60 465.80,585.60 C468.10,585.60 471.30,584.18 473.80,583.50 C476.30,582.82 477.60,581.92 480.80,581.50 C484.00,581.08 488.72,581.17 493.00,581.00 C497.28,580.83 504.25,580.58 506.50,580.50" stroke="#e7737a" stroke-width="1.8" fill="none" stroke-linecap="round" stroke-linejoin="round"/>
<path d="M376.40,485.80 C377.70,486.82 381.30,489.28 384.20,491.90 C387.10,494.52 390.65,497.73 393.80,501.50 C396.95,505.27 400.53,510.33 403.10,514.50 C405.67,518.67 407.38,522.58 409.20,526.50 C411.02,530.42 412.45,533.92 414.00,538.00 C415.55,542.08 417.00,547.08 418.50,551.00 C420.00,554.92 421.28,558.20 423.00,561.50 C424.72,564.80 426.87,568.33 428.80,570.80 C430.73,573.27 431.70,574.85 434.60,576.30 C437.50,577.75 442.93,578.88 446.20,579.50 C449.47,580.12 450.73,580.05 454.20,580.00 C457.67,579.95 462.57,579.40 467.00,579.20 C471.43,579.00 476.47,578.75 480.80,578.80 C485.13,578.85 488.72,579.30 493.00,579.50 C497.28,579.70 504.25,579.92 506.50,580.00" stroke="#2cb5b7" stroke-width="1.8" fill="none" stroke-linecap="round" stroke-linejoin="round"/>
<circle cx="376.40" cy="468.10" r="1.7" fill="#e7737a"/>
<circle cx="402.40" cy="462.90" r="1.7" fill="#e7737a"/>
<circle cx="428.40" cy="480.40" r="1.7" fill="#e7737a"/>
<circle cx="454.40" cy="577.00" r="1.7" fill="#e7737a"/>
<circle cx="480.40" cy="581.50" r="1.7" fill="#e7737a"/>
<circle cx="506.40" cy="580.50" r="1.7" fill="#e7737a"/>
<circle cx="376.40" cy="485.80" r="1.7" fill="#2cb5b7"/>
<circle cx="402.40" cy="514.10" r="1.7" fill="#2cb5b7"/>
<circle cx="428.40" cy="571.20" r="1.7" fill="#2cb5b7"/>
<circle cx="454.40" cy="580.00" r="1.7" fill="#2cb5b7"/>
<circle cx="480.40" cy="578.50" r="1.7" fill="#2cb5b7"/>
<circle cx="506.40" cy="580.00" r="1.7" fill="#2cb5b7"/>
<text x="465.37" y="482.20" font-family="'DejaVu Sans', Verdana, sans-serif" font-size="7.1" font-weight="400" fill="#1a1a1a" textLength="29.45" lengthAdjust="spacingAndGlyphs">Mutant</text>
<line x1="466.30" y1="489.00" x2="475.60" y2="489.00" stroke="#e7737a" stroke-width="1.6"/>
<circle cx="471.00" cy="489.00" r="1.5" fill="#e7737a"/>
<line x1="466.30" y1="500.60" x2="475.60" y2="500.60" stroke="#2cb5b7" stroke-width="1.6"/>
<circle cx="471.00" cy="500.60" r="1.5" fill="#2cb5b7"/>
<text x="478.10" y="492.20" font-family="'DejaVu Sans', Verdana, sans-serif" font-size="6.7" font-weight="400" fill="#1a1a1a" textLength="39.10" lengthAdjust="spacingAndGlyphs">KRAS G12V</text>
<text x="477.10" y="504.40" font-family="'DejaVu Sans', Verdana, sans-serif" font-size="6.7" font-weight="400" fill="#1a1a1a" textLength="42.90" lengthAdjust="spacingAndGlyphs">SOS1 N233Y</text>
<text x="369.86" y="619.00" font-family="'Liberation Sans', Arial, sans-serif" font-size="10.7" font-weight="400" fill="#1a1a1a" textLength="89.48" lengthAdjust="spacingAndGlyphs">Concentration (log</text>
<text x="459.57" y="621.00" font-family="'Liberation Sans', Arial, sans-serif" font-size="7.2" font-weight="400" fill="#1a1a1a" textLength="9.56" lengthAdjust="spacingAndGlyphs">10</text>
<text x="471.26" y="619.00" font-family="'Liberation Sans', Arial, sans-serif" font-size="10.7" font-weight="400" fill="#1a1a1a" textLength="37.38" lengthAdjust="spacingAndGlyphs">µmol/L)</text>
</svg>
</body></html>
